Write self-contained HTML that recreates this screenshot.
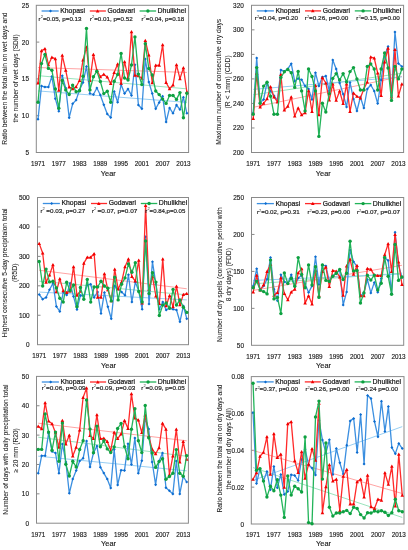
<!DOCTYPE html><html><head><meta charset="utf-8"><style>html,body{margin:0;padding:0;background:#fff;}svg{display:block;filter:blur(0.4px);}text{font-family:"Liberation Sans",sans-serif;fill:#111;stroke:#111;stroke-width:0.3px;}.t{fill:#222;stroke:#222;stroke-width:0.16px;}.yl{fill:#222;stroke:#222;stroke-width:0.06px;}.lg{fill:#151515;stroke:#151515;stroke-width:0.2px;}.st{fill:#1e1e1e;stroke:#1e1e1e;stroke-width:0.18px;}.sp{fill:#333;stroke:none;}</style></head><body>
<svg width="408" height="550" viewBox="0 0 408 550">
<rect width="408" height="550" fill="#fff"/>
<g><rect x="36.3" y="5.3" width="152.3" height="147.2" fill="none" stroke="#8a8a8a" stroke-width="1"/><text class="t" x="29" y="7.8" font-size="7.0" text-anchor="end" textLength="7.16" lengthAdjust="spacingAndGlyphs">25</text><line x1="36.3" y1="42.1" x2="39.3" y2="42.1" stroke="#8a8a8a" stroke-width="1"/><text class="t" x="29" y="44.6" font-size="7.0" text-anchor="end" textLength="7.16" lengthAdjust="spacingAndGlyphs">20</text><line x1="36.3" y1="78.9" x2="39.3" y2="78.9" stroke="#8a8a8a" stroke-width="1"/><text class="t" x="29" y="81.4" font-size="7.0" text-anchor="end" textLength="7.16" lengthAdjust="spacingAndGlyphs">15</text><line x1="36.3" y1="115.7" x2="39.3" y2="115.7" stroke="#8a8a8a" stroke-width="1"/><text class="t" x="29" y="118.2" font-size="7.0" text-anchor="end" textLength="7.16" lengthAdjust="spacingAndGlyphs">10</text><text class="t" x="29" y="155" font-size="7.0" text-anchor="end" textLength="3.58" lengthAdjust="spacingAndGlyphs">5</text><text class="t" x="38.03" y="165.9" font-size="7.0" text-anchor="middle" textLength="14.1" lengthAdjust="spacingAndGlyphs">1971</text><text class="t" x="58.8" y="165.9" font-size="7.0" text-anchor="middle" textLength="14.1" lengthAdjust="spacingAndGlyphs">1977</text><text class="t" x="79.57" y="165.9" font-size="7.0" text-anchor="middle" textLength="14.1" lengthAdjust="spacingAndGlyphs">1983</text><text class="t" x="100.34" y="165.9" font-size="7.0" text-anchor="middle" textLength="14.1" lengthAdjust="spacingAndGlyphs">1989</text><text class="t" x="121.1" y="165.9" font-size="7.0" text-anchor="middle" textLength="14.1" lengthAdjust="spacingAndGlyphs">1995</text><text class="t" x="141.87" y="165.9" font-size="7.0" text-anchor="middle" textLength="14.1" lengthAdjust="spacingAndGlyphs">2001</text><text class="t" x="162.64" y="165.9" font-size="7.0" text-anchor="middle" textLength="14.1" lengthAdjust="spacingAndGlyphs">2007</text><text class="t" x="183.41" y="165.9" font-size="7.0" text-anchor="middle" textLength="14.1" lengthAdjust="spacingAndGlyphs">2013</text><text class="t" x="108.3" y="175.6" font-size="7.4" text-anchor="middle">Year</text><text class="yl" transform="translate(7.3,78.55) rotate(-90)" font-size="6.6" text-anchor="middle" textLength="132.3" lengthAdjust="spacingAndGlyphs">Ratio between the total rain on wet days and</text><text class="yl" transform="translate(17.6,78.35) rotate(-90)" font-size="6.6" text-anchor="middle" textLength="88.3" lengthAdjust="spacingAndGlyphs">the number of wet days (SDII)</text><line x1="38.03" y1="67.56" x2="186.87" y2="72.44" stroke="#ff9a9a" stroke-width="0.9"/><line x1="38.03" y1="75.65" x2="186.87" y2="88.85" stroke="#8ee0b4" stroke-width="0.9"/><line x1="38.03" y1="90.93" x2="186.87" y2="102.37" stroke="#8cc8f0" stroke-width="0.9"/><polyline points="38.03,119.2 41.49,86.1 44.95,87 48.41,87 51.88,76.4 55.34,98.7 58.8,111.2 62.26,75.8 65.72,88 69.18,117.7 72.64,103.8 76.11,100.1 79.57,89.8 83.03,82.4 86.49,66.5 89.95,93.5 93.41,94.5 96.87,88 100.34,95 103.8,104.7 107.26,114 110.72,117.6 114.18,91.4 117.64,102.3 121.1,84.6 124.56,93.5 128.03,89 131.49,95.4 134.95,64.8 138.41,105 141.87,108.8 145.33,59.1 148.79,82 152.26,93.5 155.72,108.8 159.18,102.4 162.64,96.3 166.1,122 169.56,107.9 173.02,113.3 176.49,105 179.95,109.6 183.41,97.3 186.87,113.3" fill="none" stroke="#3b8fe0" stroke-width="1.3" stroke-linejoin="round"/><path d="M38.03 117.7L39.53 119.2L38.03 120.7L36.53 119.2Z" fill="#0c6cd0"/><path d="M41.49 84.6L42.99 86.1L41.49 87.6L39.99 86.1Z" fill="#0c6cd0"/><path d="M44.95 85.5L46.45 87L44.95 88.5L43.45 87Z" fill="#0c6cd0"/><path d="M48.41 85.5L49.91 87L48.41 88.5L46.91 87Z" fill="#0c6cd0"/><path d="M51.88 74.9L53.38 76.4L51.88 77.9L50.38 76.4Z" fill="#0c6cd0"/><path d="M55.34 97.2L56.84 98.7L55.34 100.2L53.84 98.7Z" fill="#0c6cd0"/><path d="M58.8 109.7L60.3 111.2L58.8 112.7L57.3 111.2Z" fill="#0c6cd0"/><path d="M62.26 74.3L63.76 75.8L62.26 77.3L60.76 75.8Z" fill="#0c6cd0"/><path d="M65.72 86.5L67.22 88L65.72 89.5L64.22 88Z" fill="#0c6cd0"/><path d="M69.18 116.2L70.68 117.7L69.18 119.2L67.68 117.7Z" fill="#0c6cd0"/><path d="M72.64 102.3L74.14 103.8L72.64 105.3L71.14 103.8Z" fill="#0c6cd0"/><path d="M76.11 98.6L77.61 100.1L76.11 101.6L74.61 100.1Z" fill="#0c6cd0"/><path d="M79.57 88.3L81.07 89.8L79.57 91.3L78.07 89.8Z" fill="#0c6cd0"/><path d="M83.03 80.9L84.53 82.4L83.03 83.9L81.53 82.4Z" fill="#0c6cd0"/><path d="M86.49 65L87.99 66.5L86.49 68L84.99 66.5Z" fill="#0c6cd0"/><path d="M89.95 92L91.45 93.5L89.95 95L88.45 93.5Z" fill="#0c6cd0"/><path d="M93.41 93L94.91 94.5L93.41 96L91.91 94.5Z" fill="#0c6cd0"/><path d="M96.87 86.5L98.37 88L96.87 89.5L95.37 88Z" fill="#0c6cd0"/><path d="M100.34 93.5L101.84 95L100.34 96.5L98.84 95Z" fill="#0c6cd0"/><path d="M103.8 103.2L105.3 104.7L103.8 106.2L102.3 104.7Z" fill="#0c6cd0"/><path d="M107.26 112.5L108.76 114L107.26 115.5L105.76 114Z" fill="#0c6cd0"/><path d="M110.72 116.1L112.22 117.6L110.72 119.1L109.22 117.6Z" fill="#0c6cd0"/><path d="M114.18 89.9L115.68 91.4L114.18 92.9L112.68 91.4Z" fill="#0c6cd0"/><path d="M117.64 100.8L119.14 102.3L117.64 103.8L116.14 102.3Z" fill="#0c6cd0"/><path d="M121.1 83.1L122.6 84.6L121.1 86.1L119.6 84.6Z" fill="#0c6cd0"/><path d="M124.56 92L126.06 93.5L124.56 95L123.06 93.5Z" fill="#0c6cd0"/><path d="M128.03 87.5L129.53 89L128.03 90.5L126.53 89Z" fill="#0c6cd0"/><path d="M131.49 93.9L132.99 95.4L131.49 96.9L129.99 95.4Z" fill="#0c6cd0"/><path d="M134.95 63.3L136.45 64.8L134.95 66.3L133.45 64.8Z" fill="#0c6cd0"/><path d="M138.41 103.5L139.91 105L138.41 106.5L136.91 105Z" fill="#0c6cd0"/><path d="M141.87 107.3L143.37 108.8L141.87 110.3L140.37 108.8Z" fill="#0c6cd0"/><path d="M145.33 57.6L146.83 59.1L145.33 60.6L143.83 59.1Z" fill="#0c6cd0"/><path d="M148.79 80.5L150.29 82L148.79 83.5L147.29 82Z" fill="#0c6cd0"/><path d="M152.26 92L153.76 93.5L152.26 95L150.76 93.5Z" fill="#0c6cd0"/><path d="M155.72 107.3L157.22 108.8L155.72 110.3L154.22 108.8Z" fill="#0c6cd0"/><path d="M159.18 100.9L160.68 102.4L159.18 103.9L157.68 102.4Z" fill="#0c6cd0"/><path d="M162.64 94.8L164.14 96.3L162.64 97.8L161.14 96.3Z" fill="#0c6cd0"/><path d="M166.1 120.5L167.6 122L166.1 123.5L164.6 122Z" fill="#0c6cd0"/><path d="M169.56 106.4L171.06 107.9L169.56 109.4L168.06 107.9Z" fill="#0c6cd0"/><path d="M173.02 111.8L174.52 113.3L173.02 114.8L171.52 113.3Z" fill="#0c6cd0"/><path d="M176.49 103.5L177.99 105L176.49 106.5L174.99 105Z" fill="#0c6cd0"/><path d="M179.95 108.1L181.45 109.6L179.95 111.1L178.45 109.6Z" fill="#0c6cd0"/><path d="M183.41 95.8L184.91 97.3L183.41 98.8L181.91 97.3Z" fill="#0c6cd0"/><path d="M186.87 111.8L188.37 113.3L186.87 114.8L185.37 113.3Z" fill="#0c6cd0"/><polyline points="38.03,83 41.49,50.7 44.95,48.9 48.41,64.7 51.88,57.3 55.34,58.7 58.8,90.4 62.26,55.4 65.72,70.3 69.18,87.1 72.64,88.9 76.11,86.7 79.57,80.5 83.03,60.1 86.49,47 89.95,80.5 93.41,54.5 96.87,70.3 100.34,76.8 103.8,74.4 107.26,77 110.72,83.6 114.18,72.6 117.64,64.1 121.1,83.3 124.56,61.7 128.03,77.6 131.49,31.9 134.95,75.4 138.41,75.9 141.87,78.2 145.33,40.6 148.79,55 152.26,82.7 155.72,65.4 159.18,65.4 162.64,44.8 166.1,82.6 169.56,88.8 173.02,85 176.49,64.9 179.95,78.7 183.41,67.9 186.87,92" fill="none" stroke="#ff2a2a" stroke-width="1.3" stroke-linejoin="round"/><path d="M38.03 81.2L39.83 84.44L36.23 84.44Z" fill="#f00000"/><path d="M41.49 48.9L43.29 52.14L39.69 52.14Z" fill="#f00000"/><path d="M44.95 47.1L46.75 50.34L43.15 50.34Z" fill="#f00000"/><path d="M48.41 62.9L50.21 66.14L46.61 66.14Z" fill="#f00000"/><path d="M51.88 55.5L53.68 58.74L50.08 58.74Z" fill="#f00000"/><path d="M55.34 56.9L57.14 60.14L53.54 60.14Z" fill="#f00000"/><path d="M58.8 88.6L60.6 91.84L57 91.84Z" fill="#f00000"/><path d="M62.26 53.6L64.06 56.84L60.46 56.84Z" fill="#f00000"/><path d="M65.72 68.5L67.52 71.74L63.92 71.74Z" fill="#f00000"/><path d="M69.18 85.3L70.98 88.54L67.38 88.54Z" fill="#f00000"/><path d="M72.64 87.1L74.44 90.34L70.84 90.34Z" fill="#f00000"/><path d="M76.11 84.9L77.91 88.14L74.31 88.14Z" fill="#f00000"/><path d="M79.57 78.7L81.37 81.94L77.77 81.94Z" fill="#f00000"/><path d="M83.03 58.3L84.83 61.54L81.23 61.54Z" fill="#f00000"/><path d="M86.49 45.2L88.29 48.44L84.69 48.44Z" fill="#f00000"/><path d="M89.95 78.7L91.75 81.94L88.15 81.94Z" fill="#f00000"/><path d="M93.41 52.7L95.21 55.94L91.61 55.94Z" fill="#f00000"/><path d="M96.87 68.5L98.67 71.74L95.07 71.74Z" fill="#f00000"/><path d="M100.34 75L102.14 78.24L98.54 78.24Z" fill="#f00000"/><path d="M103.8 72.6L105.6 75.84L102 75.84Z" fill="#f00000"/><path d="M107.26 75.2L109.06 78.44L105.46 78.44Z" fill="#f00000"/><path d="M110.72 81.8L112.52 85.04L108.92 85.04Z" fill="#f00000"/><path d="M114.18 70.8L115.98 74.04L112.38 74.04Z" fill="#f00000"/><path d="M117.64 62.3L119.44 65.54L115.84 65.54Z" fill="#f00000"/><path d="M121.1 81.5L122.9 84.74L119.3 84.74Z" fill="#f00000"/><path d="M124.56 59.9L126.36 63.14L122.76 63.14Z" fill="#f00000"/><path d="M128.03 75.8L129.83 79.04L126.23 79.04Z" fill="#f00000"/><path d="M131.49 30.1L133.29 33.34L129.69 33.34Z" fill="#f00000"/><path d="M134.95 73.6L136.75 76.84L133.15 76.84Z" fill="#f00000"/><path d="M138.41 74.1L140.21 77.34L136.61 77.34Z" fill="#f00000"/><path d="M141.87 76.4L143.67 79.64L140.07 79.64Z" fill="#f00000"/><path d="M145.33 38.8L147.13 42.04L143.53 42.04Z" fill="#f00000"/><path d="M148.79 53.2L150.59 56.44L146.99 56.44Z" fill="#f00000"/><path d="M152.26 80.9L154.06 84.14L150.46 84.14Z" fill="#f00000"/><path d="M155.72 63.6L157.52 66.84L153.92 66.84Z" fill="#f00000"/><path d="M159.18 63.6L160.98 66.84L157.38 66.84Z" fill="#f00000"/><path d="M162.64 43L164.44 46.24L160.84 46.24Z" fill="#f00000"/><path d="M166.1 80.8L167.9 84.04L164.3 84.04Z" fill="#f00000"/><path d="M169.56 87L171.36 90.24L167.76 90.24Z" fill="#f00000"/><path d="M173.02 83.2L174.82 86.44L171.22 86.44Z" fill="#f00000"/><path d="M176.49 63.1L178.29 66.34L174.69 66.34Z" fill="#f00000"/><path d="M179.95 76.9L181.75 80.14L178.15 80.14Z" fill="#f00000"/><path d="M183.41 66.1L185.21 69.34L181.61 69.34Z" fill="#f00000"/><path d="M186.87 90.2L188.67 93.44L185.07 93.44Z" fill="#f00000"/><polyline points="38.03,102.3 41.49,63.6 44.95,54.5 48.41,68.4 51.88,70.3 55.34,88.9 58.8,108.2 62.26,80.5 65.72,89.9 69.18,94.5 72.64,85.1 76.11,91.7 79.57,90.8 83.03,76.2 86.49,28.4 89.95,89.9 93.41,76.8 96.87,71.2 100.34,81.5 103.8,93.6 107.26,91.2 110.72,102.2 114.18,81.2 117.64,74.5 121.1,53.4 124.56,78 128.03,80 131.49,65 134.95,36.9 138.41,74.1 141.87,84.6 145.33,43.8 148.79,68.5 152.26,75 155.72,91 159.18,94.6 162.64,99.1 166.1,103.4 169.56,95.4 173.02,95.5 176.49,99.4 179.95,92.6 183.41,117.8 186.87,93.2" fill="none" stroke="#22b45a" stroke-width="1.3" stroke-linejoin="round"/><circle cx="38.03" cy="102.3" r="1.7" fill="#0ea040"/><circle cx="41.49" cy="63.6" r="1.7" fill="#0ea040"/><circle cx="44.95" cy="54.5" r="1.7" fill="#0ea040"/><circle cx="48.41" cy="68.4" r="1.7" fill="#0ea040"/><circle cx="51.88" cy="70.3" r="1.7" fill="#0ea040"/><circle cx="55.34" cy="88.9" r="1.7" fill="#0ea040"/><circle cx="58.8" cy="108.2" r="1.7" fill="#0ea040"/><circle cx="62.26" cy="80.5" r="1.7" fill="#0ea040"/><circle cx="65.72" cy="89.9" r="1.7" fill="#0ea040"/><circle cx="69.18" cy="94.5" r="1.7" fill="#0ea040"/><circle cx="72.64" cy="85.1" r="1.7" fill="#0ea040"/><circle cx="76.11" cy="91.7" r="1.7" fill="#0ea040"/><circle cx="79.57" cy="90.8" r="1.7" fill="#0ea040"/><circle cx="83.03" cy="76.2" r="1.7" fill="#0ea040"/><circle cx="86.49" cy="28.4" r="1.7" fill="#0ea040"/><circle cx="89.95" cy="89.9" r="1.7" fill="#0ea040"/><circle cx="93.41" cy="76.8" r="1.7" fill="#0ea040"/><circle cx="96.87" cy="71.2" r="1.7" fill="#0ea040"/><circle cx="100.34" cy="81.5" r="1.7" fill="#0ea040"/><circle cx="103.8" cy="93.6" r="1.7" fill="#0ea040"/><circle cx="107.26" cy="91.2" r="1.7" fill="#0ea040"/><circle cx="110.72" cy="102.2" r="1.7" fill="#0ea040"/><circle cx="114.18" cy="81.2" r="1.7" fill="#0ea040"/><circle cx="117.64" cy="74.5" r="1.7" fill="#0ea040"/><circle cx="121.1" cy="53.4" r="1.7" fill="#0ea040"/><circle cx="124.56" cy="78" r="1.7" fill="#0ea040"/><circle cx="128.03" cy="80" r="1.7" fill="#0ea040"/><circle cx="131.49" cy="65" r="1.7" fill="#0ea040"/><circle cx="134.95" cy="36.9" r="1.7" fill="#0ea040"/><circle cx="138.41" cy="74.1" r="1.7" fill="#0ea040"/><circle cx="141.87" cy="84.6" r="1.7" fill="#0ea040"/><circle cx="145.33" cy="43.8" r="1.7" fill="#0ea040"/><circle cx="148.79" cy="68.5" r="1.7" fill="#0ea040"/><circle cx="152.26" cy="75" r="1.7" fill="#0ea040"/><circle cx="155.72" cy="91" r="1.7" fill="#0ea040"/><circle cx="159.18" cy="94.6" r="1.7" fill="#0ea040"/><circle cx="162.64" cy="99.1" r="1.7" fill="#0ea040"/><circle cx="166.1" cy="103.4" r="1.7" fill="#0ea040"/><circle cx="169.56" cy="95.4" r="1.7" fill="#0ea040"/><circle cx="173.02" cy="95.5" r="1.7" fill="#0ea040"/><circle cx="176.49" cy="99.4" r="1.7" fill="#0ea040"/><circle cx="179.95" cy="92.6" r="1.7" fill="#0ea040"/><circle cx="183.41" cy="117.8" r="1.7" fill="#0ea040"/><circle cx="186.87" cy="93.2" r="1.7" fill="#0ea040"/><line x1="41.6" y1="11" x2="58.7" y2="11" stroke="#3b8fe0" stroke-width="1.3"/><path d="M50.5 9.5L52 11L50.5 12.5L49 11Z" fill="#0c6cd0"/><text class="lg" x="60.2" y="12.95" font-size="7.0" textLength="24.9" lengthAdjust="spacingAndGlyphs">Khopasi</text><line x1="89.8" y1="11" x2="105.9" y2="11" stroke="#ff2a2a" stroke-width="1.3"/><path d="M97.6 9.2L99.4 12.44L95.8 12.44Z" fill="#f00000"/><text class="lg" x="107.5" y="12.95" font-size="7.0" textLength="27.4" lengthAdjust="spacingAndGlyphs">Godavari</text><line x1="139.6" y1="11" x2="156.1" y2="11" stroke="#22b45a" stroke-width="1.3"/><circle cx="147.9" cy="11" r="1.7" fill="#0ea040"/><text class="lg" x="157.5" y="12.95" font-size="7.0" textLength="28.6" lengthAdjust="spacingAndGlyphs">Dhulikhel</text><text class="st" x="38.6" y="20.6" font-size="5.9">r</text><text class="sp" x="40.7" y="18.2" font-size="4.0">2</text><text class="st" x="42.9" y="20.6" font-size="5.9" textLength="38.7" lengthAdjust="spacingAndGlyphs">=0.05, p=0.13</text><text class="st" x="89.9" y="20.6" font-size="5.9">r</text><text class="sp" x="92" y="18.2" font-size="4.0">2</text><text class="st" x="94.2" y="20.6" font-size="5.9" textLength="38.4" lengthAdjust="spacingAndGlyphs">=0.01, p=0.52</text><text class="st" x="141.5" y="20.6" font-size="5.9">r</text><text class="sp" x="143.6" y="18.2" font-size="4.0">2</text><text class="st" x="145.8" y="20.6" font-size="5.9" textLength="38.5" lengthAdjust="spacingAndGlyphs">=0.04, p=0.18</text></g>
<g><rect x="251.5" y="5.3" width="152.1" height="147.2" fill="none" stroke="#8a8a8a" stroke-width="1"/><text class="t" x="243.8" y="7.8" font-size="7.0" text-anchor="end" textLength="10.74" lengthAdjust="spacingAndGlyphs">320</text><line x1="251.5" y1="29.83" x2="254.5" y2="29.83" stroke="#8a8a8a" stroke-width="1"/><text class="t" x="243.8" y="32.33" font-size="7.0" text-anchor="end" textLength="10.74" lengthAdjust="spacingAndGlyphs">300</text><line x1="251.5" y1="54.37" x2="254.5" y2="54.37" stroke="#8a8a8a" stroke-width="1"/><text class="t" x="243.8" y="56.87" font-size="7.0" text-anchor="end" textLength="10.74" lengthAdjust="spacingAndGlyphs">280</text><line x1="251.5" y1="78.9" x2="254.5" y2="78.9" stroke="#8a8a8a" stroke-width="1"/><text class="t" x="243.8" y="81.4" font-size="7.0" text-anchor="end" textLength="10.74" lengthAdjust="spacingAndGlyphs">260</text><line x1="251.5" y1="103.43" x2="254.5" y2="103.43" stroke="#8a8a8a" stroke-width="1"/><text class="t" x="243.8" y="105.93" font-size="7.0" text-anchor="end" textLength="10.74" lengthAdjust="spacingAndGlyphs">240</text><line x1="251.5" y1="127.97" x2="254.5" y2="127.97" stroke="#8a8a8a" stroke-width="1"/><text class="t" x="243.8" y="130.47" font-size="7.0" text-anchor="end" textLength="10.74" lengthAdjust="spacingAndGlyphs">220</text><text class="t" x="243.8" y="155" font-size="7.0" text-anchor="end" textLength="10.74" lengthAdjust="spacingAndGlyphs">200</text><text class="t" x="253.23" y="165.9" font-size="7.0" text-anchor="middle" textLength="14.1" lengthAdjust="spacingAndGlyphs">1971</text><text class="t" x="273.97" y="165.9" font-size="7.0" text-anchor="middle" textLength="14.1" lengthAdjust="spacingAndGlyphs">1977</text><text class="t" x="294.71" y="165.9" font-size="7.0" text-anchor="middle" textLength="14.1" lengthAdjust="spacingAndGlyphs">1983</text><text class="t" x="315.45" y="165.9" font-size="7.0" text-anchor="middle" textLength="14.1" lengthAdjust="spacingAndGlyphs">1989</text><text class="t" x="336.19" y="165.9" font-size="7.0" text-anchor="middle" textLength="14.1" lengthAdjust="spacingAndGlyphs">1995</text><text class="t" x="356.93" y="165.9" font-size="7.0" text-anchor="middle" textLength="14.1" lengthAdjust="spacingAndGlyphs">2001</text><text class="t" x="377.67" y="165.9" font-size="7.0" text-anchor="middle" textLength="14.1" lengthAdjust="spacingAndGlyphs">2007</text><text class="t" x="398.41" y="165.9" font-size="7.0" text-anchor="middle" textLength="14.1" lengthAdjust="spacingAndGlyphs">2013</text><text class="t" x="323.3" y="175.6" font-size="7.4" text-anchor="middle">Year</text><text class="yl" transform="translate(221,81.8) rotate(-90)" font-size="6.6" text-anchor="middle" textLength="125.8" lengthAdjust="spacingAndGlyphs">Maximum number of consecutive dry days</text><text class="yl" transform="translate(230.3,81.85) rotate(-90)" font-size="6.6" text-anchor="middle" textLength="53.1" lengthAdjust="spacingAndGlyphs">(R < 1mm) (CDD)</text><line x1="253.23" y1="107.34" x2="401.87" y2="76.36" stroke="#ff9a9a" stroke-width="0.9"/><line x1="253.23" y1="94.75" x2="401.87" y2="73.25" stroke="#8ee0b4" stroke-width="0.9"/><line x1="253.23" y1="89.36" x2="401.87" y2="76.94" stroke="#8cc8f0" stroke-width="0.9"/><polyline points="253.23,112.9 256.69,58 260.14,102.4 263.6,99.5 267.06,82.3 270.51,90.9 273.97,95.7 277.43,100.4 280.88,69.9 284.34,71.4 287.8,68.9 291.25,63.7 294.71,81.3 298.17,78.5 301.62,79.8 305.08,86.1 308.54,89 311.99,99.5 315.45,72.7 318.91,86.1 322.36,77.1 325.82,76 329.28,91 332.74,60 336.19,69 339.65,83 343.11,94 346.56,107 350.02,82.4 353.48,99 356.93,111 360.39,97 363.85,108 367.3,89 370.76,85 374.22,91 377.67,103.6 381.13,80 384.59,56 388.04,46.4 391.5,96 394.96,32 398.41,63.6 401.87,66.4" fill="none" stroke="#3b8fe0" stroke-width="1.3" stroke-linejoin="round"/><path d="M253.23 111.4L254.73 112.9L253.23 114.4L251.73 112.9Z" fill="#0c6cd0"/><path d="M256.69 56.5L258.19 58L256.69 59.5L255.19 58Z" fill="#0c6cd0"/><path d="M260.14 100.9L261.64 102.4L260.14 103.9L258.64 102.4Z" fill="#0c6cd0"/><path d="M263.6 98L265.1 99.5L263.6 101L262.1 99.5Z" fill="#0c6cd0"/><path d="M267.06 80.8L268.56 82.3L267.06 83.8L265.56 82.3Z" fill="#0c6cd0"/><path d="M270.51 89.4L272.01 90.9L270.51 92.4L269.01 90.9Z" fill="#0c6cd0"/><path d="M273.97 94.2L275.47 95.7L273.97 97.2L272.47 95.7Z" fill="#0c6cd0"/><path d="M277.43 98.9L278.93 100.4L277.43 101.9L275.93 100.4Z" fill="#0c6cd0"/><path d="M280.88 68.4L282.38 69.9L280.88 71.4L279.38 69.9Z" fill="#0c6cd0"/><path d="M284.34 69.9L285.84 71.4L284.34 72.9L282.84 71.4Z" fill="#0c6cd0"/><path d="M287.8 67.4L289.3 68.9L287.8 70.4L286.3 68.9Z" fill="#0c6cd0"/><path d="M291.25 62.2L292.75 63.7L291.25 65.2L289.75 63.7Z" fill="#0c6cd0"/><path d="M294.71 79.8L296.21 81.3L294.71 82.8L293.21 81.3Z" fill="#0c6cd0"/><path d="M298.17 77L299.67 78.5L298.17 80L296.67 78.5Z" fill="#0c6cd0"/><path d="M301.62 78.3L303.12 79.8L301.62 81.3L300.12 79.8Z" fill="#0c6cd0"/><path d="M305.08 84.6L306.58 86.1L305.08 87.6L303.58 86.1Z" fill="#0c6cd0"/><path d="M308.54 87.5L310.04 89L308.54 90.5L307.04 89Z" fill="#0c6cd0"/><path d="M311.99 98L313.49 99.5L311.99 101L310.49 99.5Z" fill="#0c6cd0"/><path d="M315.45 71.2L316.95 72.7L315.45 74.2L313.95 72.7Z" fill="#0c6cd0"/><path d="M318.91 84.6L320.41 86.1L318.91 87.6L317.41 86.1Z" fill="#0c6cd0"/><path d="M322.36 75.6L323.86 77.1L322.36 78.6L320.86 77.1Z" fill="#0c6cd0"/><path d="M325.82 74.5L327.32 76L325.82 77.5L324.32 76Z" fill="#0c6cd0"/><path d="M329.28 89.5L330.78 91L329.28 92.5L327.78 91Z" fill="#0c6cd0"/><path d="M332.74 58.5L334.24 60L332.74 61.5L331.24 60Z" fill="#0c6cd0"/><path d="M336.19 67.5L337.69 69L336.19 70.5L334.69 69Z" fill="#0c6cd0"/><path d="M339.65 81.5L341.15 83L339.65 84.5L338.15 83Z" fill="#0c6cd0"/><path d="M343.11 92.5L344.61 94L343.11 95.5L341.61 94Z" fill="#0c6cd0"/><path d="M346.56 105.5L348.06 107L346.56 108.5L345.06 107Z" fill="#0c6cd0"/><path d="M350.02 80.9L351.52 82.4L350.02 83.9L348.52 82.4Z" fill="#0c6cd0"/><path d="M353.48 97.5L354.98 99L353.48 100.5L351.98 99Z" fill="#0c6cd0"/><path d="M356.93 109.5L358.43 111L356.93 112.5L355.43 111Z" fill="#0c6cd0"/><path d="M360.39 95.5L361.89 97L360.39 98.5L358.89 97Z" fill="#0c6cd0"/><path d="M363.85 106.5L365.35 108L363.85 109.5L362.35 108Z" fill="#0c6cd0"/><path d="M367.3 87.5L368.8 89L367.3 90.5L365.8 89Z" fill="#0c6cd0"/><path d="M370.76 83.5L372.26 85L370.76 86.5L369.26 85Z" fill="#0c6cd0"/><path d="M374.22 89.5L375.72 91L374.22 92.5L372.72 91Z" fill="#0c6cd0"/><path d="M377.67 102.1L379.17 103.6L377.67 105.1L376.17 103.6Z" fill="#0c6cd0"/><path d="M381.13 78.5L382.63 80L381.13 81.5L379.63 80Z" fill="#0c6cd0"/><path d="M384.59 54.5L386.09 56L384.59 57.5L383.09 56Z" fill="#0c6cd0"/><path d="M388.04 44.9L389.54 46.4L388.04 47.9L386.54 46.4Z" fill="#0c6cd0"/><path d="M391.5 94.5L393 96L391.5 97.5L390 96Z" fill="#0c6cd0"/><path d="M394.96 30.5L396.46 32L394.96 33.5L393.46 32Z" fill="#0c6cd0"/><path d="M398.41 62.1L399.91 63.6L398.41 65.1L396.91 63.6Z" fill="#0c6cd0"/><path d="M401.87 64.9L403.37 66.4L401.87 67.9L400.37 66.4Z" fill="#0c6cd0"/><polyline points="253.23,118.6 256.69,73.3 260.14,107.1 263.6,103.3 267.06,98.9 270.51,86.7 273.97,97 277.43,102 280.88,74.6 284.34,110 287.8,106.2 291.25,97 294.71,116.1 298.17,108.1 301.62,114.8 305.08,112.9 308.54,90.9 311.99,111.5 315.45,85.5 318.91,114.8 322.36,77.5 325.82,83 329.28,100 332.74,84 336.19,100.4 339.65,91 343.11,103.6 346.56,84 350.02,111.6 353.48,93 356.93,96.4 360.39,98 363.85,89 367.3,82 370.76,57 374.22,58 377.67,73 381.13,95.6 384.59,62 388.04,48.4 391.5,97 394.96,49.6 398.41,96 401.87,84" fill="none" stroke="#ff2a2a" stroke-width="1.3" stroke-linejoin="round"/><path d="M253.23 116.8L255.03 120.04L251.43 120.04Z" fill="#f00000"/><path d="M256.69 71.5L258.49 74.74L254.89 74.74Z" fill="#f00000"/><path d="M260.14 105.3L261.94 108.54L258.34 108.54Z" fill="#f00000"/><path d="M263.6 101.5L265.4 104.74L261.8 104.74Z" fill="#f00000"/><path d="M267.06 97.1L268.86 100.34L265.26 100.34Z" fill="#f00000"/><path d="M270.51 84.9L272.31 88.14L268.71 88.14Z" fill="#f00000"/><path d="M273.97 95.2L275.77 98.44L272.17 98.44Z" fill="#f00000"/><path d="M277.43 100.2L279.23 103.44L275.63 103.44Z" fill="#f00000"/><path d="M280.88 72.8L282.68 76.04L279.08 76.04Z" fill="#f00000"/><path d="M284.34 108.2L286.14 111.44L282.54 111.44Z" fill="#f00000"/><path d="M287.8 104.4L289.6 107.64L286 107.64Z" fill="#f00000"/><path d="M291.25 95.2L293.05 98.44L289.45 98.44Z" fill="#f00000"/><path d="M294.71 114.3L296.51 117.54L292.91 117.54Z" fill="#f00000"/><path d="M298.17 106.3L299.97 109.54L296.37 109.54Z" fill="#f00000"/><path d="M301.62 113L303.42 116.24L299.82 116.24Z" fill="#f00000"/><path d="M305.08 111.1L306.88 114.34L303.28 114.34Z" fill="#f00000"/><path d="M308.54 89.1L310.34 92.34L306.74 92.34Z" fill="#f00000"/><path d="M311.99 109.7L313.79 112.94L310.19 112.94Z" fill="#f00000"/><path d="M315.45 83.7L317.25 86.94L313.65 86.94Z" fill="#f00000"/><path d="M318.91 113L320.71 116.24L317.11 116.24Z" fill="#f00000"/><path d="M322.36 75.7L324.16 78.94L320.56 78.94Z" fill="#f00000"/><path d="M325.82 81.2L327.62 84.44L324.02 84.44Z" fill="#f00000"/><path d="M329.28 98.2L331.08 101.44L327.48 101.44Z" fill="#f00000"/><path d="M332.74 82.2L334.54 85.44L330.94 85.44Z" fill="#f00000"/><path d="M336.19 98.6L337.99 101.84L334.39 101.84Z" fill="#f00000"/><path d="M339.65 89.2L341.45 92.44L337.85 92.44Z" fill="#f00000"/><path d="M343.11 101.8L344.91 105.04L341.31 105.04Z" fill="#f00000"/><path d="M346.56 82.2L348.36 85.44L344.76 85.44Z" fill="#f00000"/><path d="M350.02 109.8L351.82 113.04L348.22 113.04Z" fill="#f00000"/><path d="M353.48 91.2L355.28 94.44L351.68 94.44Z" fill="#f00000"/><path d="M356.93 94.6L358.73 97.84L355.13 97.84Z" fill="#f00000"/><path d="M360.39 96.2L362.19 99.44L358.59 99.44Z" fill="#f00000"/><path d="M363.85 87.2L365.65 90.44L362.05 90.44Z" fill="#f00000"/><path d="M367.3 80.2L369.1 83.44L365.5 83.44Z" fill="#f00000"/><path d="M370.76 55.2L372.56 58.44L368.96 58.44Z" fill="#f00000"/><path d="M374.22 56.2L376.02 59.44L372.42 59.44Z" fill="#f00000"/><path d="M377.67 71.2L379.47 74.44L375.87 74.44Z" fill="#f00000"/><path d="M381.13 93.8L382.93 97.04L379.33 97.04Z" fill="#f00000"/><path d="M384.59 60.2L386.39 63.44L382.79 63.44Z" fill="#f00000"/><path d="M388.04 46.6L389.84 49.84L386.24 49.84Z" fill="#f00000"/><path d="M391.5 95.2L393.3 98.44L389.7 98.44Z" fill="#f00000"/><path d="M394.96 47.8L396.76 51.04L393.16 51.04Z" fill="#f00000"/><path d="M398.41 94.2L400.21 97.44L396.61 97.44Z" fill="#f00000"/><path d="M401.87 82.2L403.67 85.44L400.07 85.44Z" fill="#f00000"/><polyline points="253.23,114.2 256.69,67.6 260.14,103.3 263.6,86.1 267.06,82.3 270.51,96.2 273.97,114.2 277.43,114.2 280.88,77.5 284.34,71.8 287.8,69.5 291.25,72.7 294.71,87.4 298.17,71.4 301.62,90.9 305.08,111 308.54,68.9 311.99,76.5 315.45,90.9 318.91,136.4 322.36,103.3 325.82,112 329.28,93.6 332.74,78.4 336.19,73.6 339.65,80 343.11,73.6 346.56,82 350.02,71.6 353.48,67.6 356.93,79 360.39,90 363.85,90 367.3,66.4 370.76,64 374.22,69 377.67,90 381.13,69 384.59,53 388.04,68 391.5,100.4 394.96,66.4 398.41,78.9 401.87,69" fill="none" stroke="#22b45a" stroke-width="1.3" stroke-linejoin="round"/><circle cx="253.23" cy="114.2" r="1.7" fill="#0ea040"/><circle cx="256.69" cy="67.6" r="1.7" fill="#0ea040"/><circle cx="260.14" cy="103.3" r="1.7" fill="#0ea040"/><circle cx="263.6" cy="86.1" r="1.7" fill="#0ea040"/><circle cx="267.06" cy="82.3" r="1.7" fill="#0ea040"/><circle cx="270.51" cy="96.2" r="1.7" fill="#0ea040"/><circle cx="273.97" cy="114.2" r="1.7" fill="#0ea040"/><circle cx="277.43" cy="114.2" r="1.7" fill="#0ea040"/><circle cx="280.88" cy="77.5" r="1.7" fill="#0ea040"/><circle cx="284.34" cy="71.8" r="1.7" fill="#0ea040"/><circle cx="287.8" cy="69.5" r="1.7" fill="#0ea040"/><circle cx="291.25" cy="72.7" r="1.7" fill="#0ea040"/><circle cx="294.71" cy="87.4" r="1.7" fill="#0ea040"/><circle cx="298.17" cy="71.4" r="1.7" fill="#0ea040"/><circle cx="301.62" cy="90.9" r="1.7" fill="#0ea040"/><circle cx="305.08" cy="111" r="1.7" fill="#0ea040"/><circle cx="308.54" cy="68.9" r="1.7" fill="#0ea040"/><circle cx="311.99" cy="76.5" r="1.7" fill="#0ea040"/><circle cx="315.45" cy="90.9" r="1.7" fill="#0ea040"/><circle cx="318.91" cy="136.4" r="1.7" fill="#0ea040"/><circle cx="322.36" cy="103.3" r="1.7" fill="#0ea040"/><circle cx="325.82" cy="112" r="1.7" fill="#0ea040"/><circle cx="329.28" cy="93.6" r="1.7" fill="#0ea040"/><circle cx="332.74" cy="78.4" r="1.7" fill="#0ea040"/><circle cx="336.19" cy="73.6" r="1.7" fill="#0ea040"/><circle cx="339.65" cy="80" r="1.7" fill="#0ea040"/><circle cx="343.11" cy="73.6" r="1.7" fill="#0ea040"/><circle cx="346.56" cy="82" r="1.7" fill="#0ea040"/><circle cx="350.02" cy="71.6" r="1.7" fill="#0ea040"/><circle cx="353.48" cy="67.6" r="1.7" fill="#0ea040"/><circle cx="356.93" cy="79" r="1.7" fill="#0ea040"/><circle cx="360.39" cy="90" r="1.7" fill="#0ea040"/><circle cx="363.85" cy="90" r="1.7" fill="#0ea040"/><circle cx="367.3" cy="66.4" r="1.7" fill="#0ea040"/><circle cx="370.76" cy="64" r="1.7" fill="#0ea040"/><circle cx="374.22" cy="69" r="1.7" fill="#0ea040"/><circle cx="377.67" cy="90" r="1.7" fill="#0ea040"/><circle cx="381.13" cy="69" r="1.7" fill="#0ea040"/><circle cx="384.59" cy="53" r="1.7" fill="#0ea040"/><circle cx="388.04" cy="68" r="1.7" fill="#0ea040"/><circle cx="391.5" cy="100.4" r="1.7" fill="#0ea040"/><circle cx="394.96" cy="66.4" r="1.7" fill="#0ea040"/><circle cx="398.41" cy="78.9" r="1.7" fill="#0ea040"/><circle cx="401.87" cy="69" r="1.7" fill="#0ea040"/><line x1="256.8" y1="10.9" x2="273.9" y2="10.9" stroke="#3b8fe0" stroke-width="1.3"/><path d="M265.7 9.4L267.2 10.9L265.7 12.4L264.2 10.9Z" fill="#0c6cd0"/><text class="lg" x="275.4" y="12.85" font-size="7.0" textLength="24.9" lengthAdjust="spacingAndGlyphs">Khopasi</text><line x1="305" y1="10.9" x2="321.1" y2="10.9" stroke="#ff2a2a" stroke-width="1.3"/><path d="M312.8 9.1L314.6 12.34L311 12.34Z" fill="#f00000"/><text class="lg" x="322.7" y="12.85" font-size="7.0" textLength="27.4" lengthAdjust="spacingAndGlyphs">Godavari</text><line x1="354.8" y1="10.9" x2="371.3" y2="10.9" stroke="#22b45a" stroke-width="1.3"/><circle cx="363.1" cy="10.9" r="1.7" fill="#0ea040"/><text class="lg" x="372.7" y="12.85" font-size="7.0" textLength="28.6" lengthAdjust="spacingAndGlyphs">Dhulikhel</text><text class="st" x="254.8" y="20.4" font-size="5.9">r</text><text class="sp" x="256.9" y="18" font-size="4.0">2</text><text class="st" x="259.1" y="20.4" font-size="5.9" textLength="39" lengthAdjust="spacingAndGlyphs">=0.04, p=0.20</text><text class="st" x="304.8" y="20.4" font-size="5.9">r</text><text class="sp" x="306.9" y="18" font-size="4.0">2</text><text class="st" x="309.1" y="20.4" font-size="5.9" textLength="39.3" lengthAdjust="spacingAndGlyphs">=0.26, p=0.00</text><text class="st" x="356.3" y="20.4" font-size="5.9">r</text><text class="sp" x="358.4" y="18" font-size="4.0">2</text><text class="st" x="360.6" y="20.4" font-size="5.9" textLength="39.3" lengthAdjust="spacingAndGlyphs">=0.15, p=0.00</text></g>
<g><rect x="37.5" y="197.5" width="151" height="147.2" fill="none" stroke="#8a8a8a" stroke-width="1"/><text class="t" x="29.7" y="200" font-size="7.0" text-anchor="end" textLength="10.74" lengthAdjust="spacingAndGlyphs">500</text><line x1="37.5" y1="226.94" x2="40.5" y2="226.94" stroke="#8a8a8a" stroke-width="1"/><text class="t" x="29.7" y="229.44" font-size="7.0" text-anchor="end" textLength="10.74" lengthAdjust="spacingAndGlyphs">400</text><line x1="37.5" y1="256.38" x2="40.5" y2="256.38" stroke="#8a8a8a" stroke-width="1"/><text class="t" x="29.7" y="258.88" font-size="7.0" text-anchor="end" textLength="10.74" lengthAdjust="spacingAndGlyphs">300</text><line x1="37.5" y1="285.82" x2="40.5" y2="285.82" stroke="#8a8a8a" stroke-width="1"/><text class="t" x="29.7" y="288.32" font-size="7.0" text-anchor="end" textLength="10.74" lengthAdjust="spacingAndGlyphs">200</text><line x1="37.5" y1="315.26" x2="40.5" y2="315.26" stroke="#8a8a8a" stroke-width="1"/><text class="t" x="29.7" y="317.76" font-size="7.0" text-anchor="end" textLength="10.74" lengthAdjust="spacingAndGlyphs">100</text><text class="t" x="29.7" y="347.2" font-size="7.0" text-anchor="end" textLength="3.58" lengthAdjust="spacingAndGlyphs">0</text><text class="t" x="39.22" y="358.1" font-size="7.0" text-anchor="middle" textLength="14.1" lengthAdjust="spacingAndGlyphs">1971</text><text class="t" x="59.81" y="358.1" font-size="7.0" text-anchor="middle" textLength="14.1" lengthAdjust="spacingAndGlyphs">1977</text><text class="t" x="80.4" y="358.1" font-size="7.0" text-anchor="middle" textLength="14.1" lengthAdjust="spacingAndGlyphs">1983</text><text class="t" x="100.99" y="358.1" font-size="7.0" text-anchor="middle" textLength="14.1" lengthAdjust="spacingAndGlyphs">1989</text><text class="t" x="121.58" y="358.1" font-size="7.0" text-anchor="middle" textLength="14.1" lengthAdjust="spacingAndGlyphs">1995</text><text class="t" x="142.17" y="358.1" font-size="7.0" text-anchor="middle" textLength="14.1" lengthAdjust="spacingAndGlyphs">2001</text><text class="t" x="162.76" y="358.1" font-size="7.0" text-anchor="middle" textLength="14.1" lengthAdjust="spacingAndGlyphs">2007</text><text class="t" x="183.35" y="358.1" font-size="7.0" text-anchor="middle" textLength="14.1" lengthAdjust="spacingAndGlyphs">2013</text><text class="t" x="108.5" y="367.6" font-size="7.4" text-anchor="middle">Year</text><text class="yl" transform="translate(7.4,273) rotate(-90)" font-size="6.6" text-anchor="middle" textLength="129.2" lengthAdjust="spacingAndGlyphs">Highest consecutive 5-day precipitaion total</text><text class="yl" transform="translate(17.4,272.75) rotate(-90)" font-size="6.6" text-anchor="middle" textLength="18.5" lengthAdjust="spacingAndGlyphs">(R5D)</text><line x1="39.22" y1="270.22" x2="186.78" y2="288.78" stroke="#ff9a9a" stroke-width="0.9"/><line x1="39.22" y1="281.16" x2="186.78" y2="294.84" stroke="#8ee0b4" stroke-width="0.9"/><line x1="39.22" y1="292.09" x2="186.78" y2="299.91" stroke="#8cc8f0" stroke-width="0.9"/><polyline points="39.22,294.5 42.65,299.2 46.08,297.4 49.51,289.8 52.94,283.2 56.38,306.4 59.81,311.5 63.24,291.7 66.67,295 70.1,283.2 73.53,296.4 76.97,309.6 80.4,295.5 83.83,296 87.26,285 90.69,284.2 94.12,297.4 97.56,292 100.99,313.4 104.42,292.6 107.85,306.8 111.28,318.7 114.72,285.7 118.15,289 121.58,292 125.01,295.3 128.44,274.8 131.88,302 135.31,282.1 138.74,291.1 142.17,309.3 145.6,236.7 149.03,304 152.47,261.8 155.9,284.2 159.33,309.3 162.76,302 166.19,309.9 169.62,308.2 173.06,309.3 176.49,309.9 179.92,321.8 183.35,306.1 186.78,318.7" fill="none" stroke="#3b8fe0" stroke-width="1.3" stroke-linejoin="round"/><path d="M39.22 293L40.72 294.5L39.22 296L37.72 294.5Z" fill="#0c6cd0"/><path d="M42.65 297.7L44.15 299.2L42.65 300.7L41.15 299.2Z" fill="#0c6cd0"/><path d="M46.08 295.9L47.58 297.4L46.08 298.9L44.58 297.4Z" fill="#0c6cd0"/><path d="M49.51 288.3L51.01 289.8L49.51 291.3L48.01 289.8Z" fill="#0c6cd0"/><path d="M52.94 281.7L54.44 283.2L52.94 284.7L51.44 283.2Z" fill="#0c6cd0"/><path d="M56.38 304.9L57.88 306.4L56.38 307.9L54.88 306.4Z" fill="#0c6cd0"/><path d="M59.81 310L61.31 311.5L59.81 313L58.31 311.5Z" fill="#0c6cd0"/><path d="M63.24 290.2L64.74 291.7L63.24 293.2L61.74 291.7Z" fill="#0c6cd0"/><path d="M66.67 293.5L68.17 295L66.67 296.5L65.17 295Z" fill="#0c6cd0"/><path d="M70.1 281.7L71.6 283.2L70.1 284.7L68.6 283.2Z" fill="#0c6cd0"/><path d="M73.53 294.9L75.03 296.4L73.53 297.9L72.03 296.4Z" fill="#0c6cd0"/><path d="M76.97 308.1L78.47 309.6L76.97 311.1L75.47 309.6Z" fill="#0c6cd0"/><path d="M80.4 294L81.9 295.5L80.4 297L78.9 295.5Z" fill="#0c6cd0"/><path d="M83.83 294.5L85.33 296L83.83 297.5L82.33 296Z" fill="#0c6cd0"/><path d="M87.26 283.5L88.76 285L87.26 286.5L85.76 285Z" fill="#0c6cd0"/><path d="M90.69 282.7L92.19 284.2L90.69 285.7L89.19 284.2Z" fill="#0c6cd0"/><path d="M94.12 295.9L95.62 297.4L94.12 298.9L92.62 297.4Z" fill="#0c6cd0"/><path d="M97.56 290.5L99.06 292L97.56 293.5L96.06 292Z" fill="#0c6cd0"/><path d="M100.99 311.9L102.49 313.4L100.99 314.9L99.49 313.4Z" fill="#0c6cd0"/><path d="M104.42 291.1L105.92 292.6L104.42 294.1L102.92 292.6Z" fill="#0c6cd0"/><path d="M107.85 305.3L109.35 306.8L107.85 308.3L106.35 306.8Z" fill="#0c6cd0"/><path d="M111.28 317.2L112.78 318.7L111.28 320.2L109.78 318.7Z" fill="#0c6cd0"/><path d="M114.72 284.2L116.22 285.7L114.72 287.2L113.22 285.7Z" fill="#0c6cd0"/><path d="M118.15 287.5L119.65 289L118.15 290.5L116.65 289Z" fill="#0c6cd0"/><path d="M121.58 290.5L123.08 292L121.58 293.5L120.08 292Z" fill="#0c6cd0"/><path d="M125.01 293.8L126.51 295.3L125.01 296.8L123.51 295.3Z" fill="#0c6cd0"/><path d="M128.44 273.3L129.94 274.8L128.44 276.3L126.94 274.8Z" fill="#0c6cd0"/><path d="M131.88 300.5L133.38 302L131.88 303.5L130.38 302Z" fill="#0c6cd0"/><path d="M135.31 280.6L136.81 282.1L135.31 283.6L133.81 282.1Z" fill="#0c6cd0"/><path d="M138.74 289.6L140.24 291.1L138.74 292.6L137.24 291.1Z" fill="#0c6cd0"/><path d="M142.17 307.8L143.67 309.3L142.17 310.8L140.67 309.3Z" fill="#0c6cd0"/><path d="M145.6 235.2L147.1 236.7L145.6 238.2L144.1 236.7Z" fill="#0c6cd0"/><path d="M149.03 302.5L150.53 304L149.03 305.5L147.53 304Z" fill="#0c6cd0"/><path d="M152.47 260.3L153.97 261.8L152.47 263.3L150.97 261.8Z" fill="#0c6cd0"/><path d="M155.9 282.7L157.4 284.2L155.9 285.7L154.4 284.2Z" fill="#0c6cd0"/><path d="M159.33 307.8L160.83 309.3L159.33 310.8L157.83 309.3Z" fill="#0c6cd0"/><path d="M162.76 300.5L164.26 302L162.76 303.5L161.26 302Z" fill="#0c6cd0"/><path d="M166.19 308.4L167.69 309.9L166.19 311.4L164.69 309.9Z" fill="#0c6cd0"/><path d="M169.62 306.7L171.12 308.2L169.62 309.7L168.12 308.2Z" fill="#0c6cd0"/><path d="M173.06 307.8L174.56 309.3L173.06 310.8L171.56 309.3Z" fill="#0c6cd0"/><path d="M176.49 308.4L177.99 309.9L176.49 311.4L174.99 309.9Z" fill="#0c6cd0"/><path d="M179.92 320.3L181.42 321.8L179.92 323.3L178.42 321.8Z" fill="#0c6cd0"/><path d="M183.35 304.6L184.85 306.1L183.35 307.6L181.85 306.1Z" fill="#0c6cd0"/><path d="M186.78 317.2L188.28 318.7L186.78 320.2L185.28 318.7Z" fill="#0c6cd0"/><polyline points="39.22,243.6 42.65,253 46.08,282.3 49.51,275.1 52.94,264.9 56.38,291.7 59.81,278.9 63.24,290.8 66.67,292.6 70.1,291 73.53,266.7 76.97,295.3 80.4,291.2 83.83,263.2 87.26,257.3 90.69,257.3 94.12,253.8 97.56,297.3 100.99,297.3 104.42,273.7 107.85,289.9 111.28,300.7 114.72,269.4 118.15,289 121.58,282.1 125.01,266.8 128.44,259.1 131.88,276.5 135.31,281.1 138.74,260.2 142.17,303 145.6,205.5 149.03,289.4 152.47,276.9 155.9,296 159.33,303.6 162.76,259.1 166.19,305.8 169.62,295.6 173.06,306.9 176.49,286.2 179.92,304.7 183.35,294.6 186.78,293.6" fill="none" stroke="#ff2a2a" stroke-width="1.3" stroke-linejoin="round"/><path d="M39.22 241.8L41.02 245.04L37.42 245.04Z" fill="#f00000"/><path d="M42.65 251.2L44.45 254.44L40.85 254.44Z" fill="#f00000"/><path d="M46.08 280.5L47.88 283.74L44.28 283.74Z" fill="#f00000"/><path d="M49.51 273.3L51.31 276.54L47.71 276.54Z" fill="#f00000"/><path d="M52.94 263.1L54.74 266.34L51.14 266.34Z" fill="#f00000"/><path d="M56.38 289.9L58.17 293.14L54.58 293.14Z" fill="#f00000"/><path d="M59.81 277.1L61.61 280.34L58.01 280.34Z" fill="#f00000"/><path d="M63.24 289L65.04 292.24L61.44 292.24Z" fill="#f00000"/><path d="M66.67 290.8L68.47 294.04L64.87 294.04Z" fill="#f00000"/><path d="M70.1 289.2L71.9 292.44L68.3 292.44Z" fill="#f00000"/><path d="M73.53 264.9L75.33 268.14L71.73 268.14Z" fill="#f00000"/><path d="M76.97 293.5L78.77 296.74L75.17 296.74Z" fill="#f00000"/><path d="M80.4 289.4L82.2 292.64L78.6 292.64Z" fill="#f00000"/><path d="M83.83 261.4L85.63 264.64L82.03 264.64Z" fill="#f00000"/><path d="M87.26 255.5L89.06 258.74L85.46 258.74Z" fill="#f00000"/><path d="M90.69 255.5L92.49 258.74L88.89 258.74Z" fill="#f00000"/><path d="M94.12 252L95.92 255.24L92.33 255.24Z" fill="#f00000"/><path d="M97.56 295.5L99.36 298.74L95.76 298.74Z" fill="#f00000"/><path d="M100.99 295.5L102.79 298.74L99.19 298.74Z" fill="#f00000"/><path d="M104.42 271.9L106.22 275.14L102.62 275.14Z" fill="#f00000"/><path d="M107.85 288.1L109.65 291.34L106.05 291.34Z" fill="#f00000"/><path d="M111.28 298.9L113.08 302.14L109.48 302.14Z" fill="#f00000"/><path d="M114.72 267.6L116.52 270.84L112.92 270.84Z" fill="#f00000"/><path d="M118.15 287.2L119.95 290.44L116.35 290.44Z" fill="#f00000"/><path d="M121.58 280.3L123.38 283.54L119.78 283.54Z" fill="#f00000"/><path d="M125.01 265L126.81 268.24L123.21 268.24Z" fill="#f00000"/><path d="M128.44 257.3L130.24 260.54L126.64 260.54Z" fill="#f00000"/><path d="M131.88 274.7L133.68 277.94L130.07 277.94Z" fill="#f00000"/><path d="M135.31 279.3L137.11 282.54L133.51 282.54Z" fill="#f00000"/><path d="M138.74 258.4L140.54 261.64L136.94 261.64Z" fill="#f00000"/><path d="M142.17 301.2L143.97 304.44L140.37 304.44Z" fill="#f00000"/><path d="M145.6 203.7L147.4 206.94L143.8 206.94Z" fill="#f00000"/><path d="M149.03 287.6L150.83 290.84L147.23 290.84Z" fill="#f00000"/><path d="M152.47 275.1L154.27 278.34L150.67 278.34Z" fill="#f00000"/><path d="M155.9 294.2L157.7 297.44L154.1 297.44Z" fill="#f00000"/><path d="M159.33 301.8L161.13 305.04L157.53 305.04Z" fill="#f00000"/><path d="M162.76 257.3L164.56 260.54L160.96 260.54Z" fill="#f00000"/><path d="M166.19 304L167.99 307.24L164.39 307.24Z" fill="#f00000"/><path d="M169.62 293.8L171.43 297.04L167.82 297.04Z" fill="#f00000"/><path d="M173.06 305.1L174.86 308.34L171.26 308.34Z" fill="#f00000"/><path d="M176.49 284.4L178.29 287.64L174.69 287.64Z" fill="#f00000"/><path d="M179.92 302.9L181.72 306.14L178.12 306.14Z" fill="#f00000"/><path d="M183.35 292.8L185.15 296.04L181.55 296.04Z" fill="#f00000"/><path d="M186.78 291.8L188.58 295.04L184.98 295.04Z" fill="#f00000"/><polyline points="39.22,261.5 42.65,286 46.08,269.1 49.51,281.9 52.94,281.3 56.38,287.9 59.81,298.3 63.24,302.1 66.67,282.3 70.1,290.8 73.53,285 76.97,306.8 80.4,287.5 83.83,299.2 87.26,279.4 90.69,302.1 94.12,287 97.56,287 100.99,281.3 104.42,286 107.85,288.3 111.28,300.9 114.72,277.3 118.15,299.9 121.58,284.2 125.01,277.9 128.44,263.9 131.88,272.3 135.31,262.7 138.74,291.5 142.17,302 145.6,240.9 149.03,293.6 152.47,272.7 155.9,282.1 159.33,315.5 162.76,305.1 166.19,303 169.62,308.2 173.06,289.4 176.49,305.1 179.92,299.9 183.35,307.2 186.78,312.4" fill="none" stroke="#22b45a" stroke-width="1.3" stroke-linejoin="round"/><circle cx="39.22" cy="261.5" r="1.7" fill="#0ea040"/><circle cx="42.65" cy="286" r="1.7" fill="#0ea040"/><circle cx="46.08" cy="269.1" r="1.7" fill="#0ea040"/><circle cx="49.51" cy="281.9" r="1.7" fill="#0ea040"/><circle cx="52.94" cy="281.3" r="1.7" fill="#0ea040"/><circle cx="56.38" cy="287.9" r="1.7" fill="#0ea040"/><circle cx="59.81" cy="298.3" r="1.7" fill="#0ea040"/><circle cx="63.24" cy="302.1" r="1.7" fill="#0ea040"/><circle cx="66.67" cy="282.3" r="1.7" fill="#0ea040"/><circle cx="70.1" cy="290.8" r="1.7" fill="#0ea040"/><circle cx="73.53" cy="285" r="1.7" fill="#0ea040"/><circle cx="76.97" cy="306.8" r="1.7" fill="#0ea040"/><circle cx="80.4" cy="287.5" r="1.7" fill="#0ea040"/><circle cx="83.83" cy="299.2" r="1.7" fill="#0ea040"/><circle cx="87.26" cy="279.4" r="1.7" fill="#0ea040"/><circle cx="90.69" cy="302.1" r="1.7" fill="#0ea040"/><circle cx="94.12" cy="287" r="1.7" fill="#0ea040"/><circle cx="97.56" cy="287" r="1.7" fill="#0ea040"/><circle cx="100.99" cy="281.3" r="1.7" fill="#0ea040"/><circle cx="104.42" cy="286" r="1.7" fill="#0ea040"/><circle cx="107.85" cy="288.3" r="1.7" fill="#0ea040"/><circle cx="111.28" cy="300.9" r="1.7" fill="#0ea040"/><circle cx="114.72" cy="277.3" r="1.7" fill="#0ea040"/><circle cx="118.15" cy="299.9" r="1.7" fill="#0ea040"/><circle cx="121.58" cy="284.2" r="1.7" fill="#0ea040"/><circle cx="125.01" cy="277.9" r="1.7" fill="#0ea040"/><circle cx="128.44" cy="263.9" r="1.7" fill="#0ea040"/><circle cx="131.88" cy="272.3" r="1.7" fill="#0ea040"/><circle cx="135.31" cy="262.7" r="1.7" fill="#0ea040"/><circle cx="138.74" cy="291.5" r="1.7" fill="#0ea040"/><circle cx="142.17" cy="302" r="1.7" fill="#0ea040"/><circle cx="145.6" cy="240.9" r="1.7" fill="#0ea040"/><circle cx="149.03" cy="293.6" r="1.7" fill="#0ea040"/><circle cx="152.47" cy="272.7" r="1.7" fill="#0ea040"/><circle cx="155.9" cy="282.1" r="1.7" fill="#0ea040"/><circle cx="159.33" cy="315.5" r="1.7" fill="#0ea040"/><circle cx="162.76" cy="305.1" r="1.7" fill="#0ea040"/><circle cx="166.19" cy="303" r="1.7" fill="#0ea040"/><circle cx="169.62" cy="308.2" r="1.7" fill="#0ea040"/><circle cx="173.06" cy="289.4" r="1.7" fill="#0ea040"/><circle cx="176.49" cy="305.1" r="1.7" fill="#0ea040"/><circle cx="179.92" cy="299.9" r="1.7" fill="#0ea040"/><circle cx="183.35" cy="307.2" r="1.7" fill="#0ea040"/><circle cx="186.78" cy="312.4" r="1.7" fill="#0ea040"/><line x1="42.8" y1="203.5" x2="59.9" y2="203.5" stroke="#3b8fe0" stroke-width="1.3"/><path d="M51.7 202L53.2 203.5L51.7 205L50.2 203.5Z" fill="#0c6cd0"/><text class="lg" x="61.4" y="205.45" font-size="7.0" textLength="24.9" lengthAdjust="spacingAndGlyphs">Khopasi</text><line x1="91" y1="203.5" x2="107.1" y2="203.5" stroke="#ff2a2a" stroke-width="1.3"/><path d="M98.8 201.7L100.6 204.94L97 204.94Z" fill="#f00000"/><text class="lg" x="108.7" y="205.45" font-size="7.0" textLength="27.4" lengthAdjust="spacingAndGlyphs">Godavari</text><line x1="140.8" y1="203.5" x2="157.3" y2="203.5" stroke="#22b45a" stroke-width="1.3"/><circle cx="149.1" cy="203.5" r="1.7" fill="#0ea040"/><text class="lg" x="158.7" y="205.45" font-size="7.0" textLength="28.6" lengthAdjust="spacingAndGlyphs">Dhulikhel</text><text class="st" x="40.5" y="212.5" font-size="5.9">r</text><text class="sp" x="42.6" y="210.1" font-size="4.0">2</text><text class="st" x="46.2" y="212.5" font-size="5.9" textLength="39.1" lengthAdjust="spacingAndGlyphs">=0.03, p=0.27</text><text class="st" x="91.9" y="212.5" font-size="5.9">r</text><text class="sp" x="94" y="210.1" font-size="4.0">2</text><text class="st" x="97.6" y="212.5" font-size="5.9" textLength="39.7" lengthAdjust="spacingAndGlyphs">=0.07, p=0.07</text><text class="st" x="145.3" y="212.5" font-size="5.9">r</text><text class="sp" x="147.4" y="210.1" font-size="4.0">2</text><text class="st" x="149.6" y="212.5" font-size="5.9" textLength="35.7" lengthAdjust="spacingAndGlyphs">=0.84,p=0.05</text></g>
<g><rect x="251.5" y="197.5" width="152.2" height="147.8" fill="none" stroke="#8a8a8a" stroke-width="1"/><text class="t" x="244" y="200" font-size="7.0" text-anchor="end" textLength="10.74" lengthAdjust="spacingAndGlyphs">250</text><line x1="251.5" y1="234.45" x2="254.5" y2="234.45" stroke="#8a8a8a" stroke-width="1"/><text class="t" x="244" y="236.95" font-size="7.0" text-anchor="end" textLength="10.74" lengthAdjust="spacingAndGlyphs">200</text><line x1="251.5" y1="271.4" x2="254.5" y2="271.4" stroke="#8a8a8a" stroke-width="1"/><text class="t" x="244" y="273.9" font-size="7.0" text-anchor="end" textLength="10.74" lengthAdjust="spacingAndGlyphs">150</text><line x1="251.5" y1="308.35" x2="254.5" y2="308.35" stroke="#8a8a8a" stroke-width="1"/><text class="t" x="244" y="310.85" font-size="7.0" text-anchor="end" textLength="10.74" lengthAdjust="spacingAndGlyphs">100</text><text class="t" x="244" y="347.8" font-size="7.0" text-anchor="end" textLength="7.16" lengthAdjust="spacingAndGlyphs">50</text><text class="t" x="253.23" y="358.6" font-size="7.0" text-anchor="middle" textLength="14.1" lengthAdjust="spacingAndGlyphs">1971</text><text class="t" x="273.98" y="358.6" font-size="7.0" text-anchor="middle" textLength="14.1" lengthAdjust="spacingAndGlyphs">1977</text><text class="t" x="294.74" y="358.6" font-size="7.0" text-anchor="middle" textLength="14.1" lengthAdjust="spacingAndGlyphs">1983</text><text class="t" x="315.49" y="358.6" font-size="7.0" text-anchor="middle" textLength="14.1" lengthAdjust="spacingAndGlyphs">1989</text><text class="t" x="336.25" y="358.6" font-size="7.0" text-anchor="middle" textLength="14.1" lengthAdjust="spacingAndGlyphs">1995</text><text class="t" x="357" y="358.6" font-size="7.0" text-anchor="middle" textLength="14.1" lengthAdjust="spacingAndGlyphs">2001</text><text class="t" x="377.76" y="358.6" font-size="7.0" text-anchor="middle" textLength="14.1" lengthAdjust="spacingAndGlyphs">2007</text><text class="t" x="398.51" y="358.6" font-size="7.0" text-anchor="middle" textLength="14.1" lengthAdjust="spacingAndGlyphs">2013</text><text class="t" x="323.5" y="367.6" font-size="7.4" text-anchor="middle">Year</text><text class="yl" transform="translate(221.5,274.65) rotate(-90)" font-size="6.6" text-anchor="middle" textLength="134.5" lengthAdjust="spacingAndGlyphs">Number of dry spells (consecutive period with</text><text class="yl" transform="translate(230.5,274.65) rotate(-90)" font-size="6.6" text-anchor="middle" textLength="53.1" lengthAdjust="spacingAndGlyphs">8 dry days) (FDD)</text><line x1="253.23" y1="290.41" x2="401.97" y2="265.29" stroke="#ff9a9a" stroke-width="0.9"/><line x1="253.23" y1="283.88" x2="401.97" y2="273.12" stroke="#8ee0b4" stroke-width="0.9"/><line x1="253.23" y1="280.43" x2="401.97" y2="274.07" stroke="#8cc8f0" stroke-width="0.9"/><polyline points="253.23,285.9 256.69,268.7 260.15,290.1 263.61,285.9 267.07,279.2 270.52,257.6 273.98,289.3 277.44,300.8 280.9,274.8 284.36,281.7 287.82,283.6 291.28,274.8 294.74,285.9 298.2,278 301.66,275.4 305.12,284 308.57,292.6 312.03,285.9 315.49,256.8 318.95,284.4 322.41,264.9 325.87,266 329.33,281.4 332.79,275.7 336.25,273.8 339.71,269.9 343.17,304.9 346.62,291.9 350.08,249.9 353.54,261.7 357,266.7 360.46,295.7 363.92,292.9 367.38,279.5 370.84,292.9 374.3,282.4 377.76,292.3 381.22,278.5 384.67,257.9 388.13,260.4 391.59,293.8 395.05,232.3 398.51,265.2 401.97,277.6" fill="none" stroke="#3b8fe0" stroke-width="1.3" stroke-linejoin="round"/><path d="M253.23 284.4L254.73 285.9L253.23 287.4L251.73 285.9Z" fill="#0c6cd0"/><path d="M256.69 267.2L258.19 268.7L256.69 270.2L255.19 268.7Z" fill="#0c6cd0"/><path d="M260.15 288.6L261.65 290.1L260.15 291.6L258.65 290.1Z" fill="#0c6cd0"/><path d="M263.61 284.4L265.11 285.9L263.61 287.4L262.11 285.9Z" fill="#0c6cd0"/><path d="M267.07 277.7L268.57 279.2L267.07 280.7L265.57 279.2Z" fill="#0c6cd0"/><path d="M270.52 256.1L272.02 257.6L270.52 259.1L269.02 257.6Z" fill="#0c6cd0"/><path d="M273.98 287.8L275.48 289.3L273.98 290.8L272.48 289.3Z" fill="#0c6cd0"/><path d="M277.44 299.3L278.94 300.8L277.44 302.3L275.94 300.8Z" fill="#0c6cd0"/><path d="M280.9 273.3L282.4 274.8L280.9 276.3L279.4 274.8Z" fill="#0c6cd0"/><path d="M284.36 280.2L285.86 281.7L284.36 283.2L282.86 281.7Z" fill="#0c6cd0"/><path d="M287.82 282.1L289.32 283.6L287.82 285.1L286.32 283.6Z" fill="#0c6cd0"/><path d="M291.28 273.3L292.78 274.8L291.28 276.3L289.78 274.8Z" fill="#0c6cd0"/><path d="M294.74 284.4L296.24 285.9L294.74 287.4L293.24 285.9Z" fill="#0c6cd0"/><path d="M298.2 276.5L299.7 278L298.2 279.5L296.7 278Z" fill="#0c6cd0"/><path d="M301.66 273.9L303.16 275.4L301.66 276.9L300.16 275.4Z" fill="#0c6cd0"/><path d="M305.12 282.5L306.62 284L305.12 285.5L303.62 284Z" fill="#0c6cd0"/><path d="M308.57 291.1L310.07 292.6L308.57 294.1L307.07 292.6Z" fill="#0c6cd0"/><path d="M312.03 284.4L313.53 285.9L312.03 287.4L310.53 285.9Z" fill="#0c6cd0"/><path d="M315.49 255.3L316.99 256.8L315.49 258.3L313.99 256.8Z" fill="#0c6cd0"/><path d="M318.95 282.9L320.45 284.4L318.95 285.9L317.45 284.4Z" fill="#0c6cd0"/><path d="M322.41 263.4L323.91 264.9L322.41 266.4L320.91 264.9Z" fill="#0c6cd0"/><path d="M325.87 264.5L327.37 266L325.87 267.5L324.37 266Z" fill="#0c6cd0"/><path d="M329.33 279.9L330.83 281.4L329.33 282.9L327.83 281.4Z" fill="#0c6cd0"/><path d="M332.79 274.2L334.29 275.7L332.79 277.2L331.29 275.7Z" fill="#0c6cd0"/><path d="M336.25 272.3L337.75 273.8L336.25 275.3L334.75 273.8Z" fill="#0c6cd0"/><path d="M339.71 268.4L341.21 269.9L339.71 271.4L338.21 269.9Z" fill="#0c6cd0"/><path d="M343.17 303.4L344.67 304.9L343.17 306.4L341.67 304.9Z" fill="#0c6cd0"/><path d="M346.62 290.4L348.12 291.9L346.62 293.4L345.12 291.9Z" fill="#0c6cd0"/><path d="M350.08 248.4L351.58 249.9L350.08 251.4L348.58 249.9Z" fill="#0c6cd0"/><path d="M353.54 260.2L355.04 261.7L353.54 263.2L352.04 261.7Z" fill="#0c6cd0"/><path d="M357 265.2L358.5 266.7L357 268.2L355.5 266.7Z" fill="#0c6cd0"/><path d="M360.46 294.2L361.96 295.7L360.46 297.2L358.96 295.7Z" fill="#0c6cd0"/><path d="M363.92 291.4L365.42 292.9L363.92 294.4L362.42 292.9Z" fill="#0c6cd0"/><path d="M367.38 278L368.88 279.5L367.38 281L365.88 279.5Z" fill="#0c6cd0"/><path d="M370.84 291.4L372.34 292.9L370.84 294.4L369.34 292.9Z" fill="#0c6cd0"/><path d="M374.3 280.9L375.8 282.4L374.3 283.9L372.8 282.4Z" fill="#0c6cd0"/><path d="M377.76 290.8L379.26 292.3L377.76 293.8L376.26 292.3Z" fill="#0c6cd0"/><path d="M381.22 277L382.72 278.5L381.22 280L379.72 278.5Z" fill="#0c6cd0"/><path d="M384.67 256.4L386.17 257.9L384.67 259.4L383.17 257.9Z" fill="#0c6cd0"/><path d="M388.13 258.9L389.63 260.4L388.13 261.9L386.63 260.4Z" fill="#0c6cd0"/><path d="M391.59 292.3L393.09 293.8L391.59 295.3L390.09 293.8Z" fill="#0c6cd0"/><path d="M395.05 230.8L396.55 232.3L395.05 233.8L393.55 232.3Z" fill="#0c6cd0"/><path d="M398.51 263.7L400.01 265.2L398.51 266.7L397.01 265.2Z" fill="#0c6cd0"/><path d="M401.97 276.1L403.47 277.6L401.97 279.1L400.47 277.6Z" fill="#0c6cd0"/><polyline points="253.23,292 256.69,275.4 260.15,290.1 263.61,284.9 267.07,271.5 270.52,264.5 273.98,295.4 277.44,292.6 280.9,277.9 284.36,293.5 287.82,299.7 291.28,292 294.74,289.3 298.2,272.9 301.66,268.7 305.12,303.1 308.57,295.8 312.03,304.1 315.49,270.2 318.95,295.4 322.41,271.5 325.87,267 329.33,286.6 332.79,270.5 336.25,271.3 339.71,277 343.17,295.4 346.62,266.1 350.08,259.4 353.54,274.3 357,265.5 360.46,295.7 363.92,295.7 367.38,268.6 370.84,269.4 374.3,275.2 377.76,275.6 381.22,275.6 384.67,254.8 388.13,243.9 391.59,271.5 395.05,234.5 398.51,262.1 401.97,284.6" fill="none" stroke="#ff2a2a" stroke-width="1.3" stroke-linejoin="round"/><path d="M253.23 290.2L255.03 293.44L251.43 293.44Z" fill="#f00000"/><path d="M256.69 273.6L258.49 276.84L254.89 276.84Z" fill="#f00000"/><path d="M260.15 288.3L261.95 291.54L258.35 291.54Z" fill="#f00000"/><path d="M263.61 283.1L265.41 286.34L261.81 286.34Z" fill="#f00000"/><path d="M267.07 269.7L268.87 272.94L265.27 272.94Z" fill="#f00000"/><path d="M270.52 262.7L272.32 265.94L268.72 265.94Z" fill="#f00000"/><path d="M273.98 293.6L275.78 296.84L272.18 296.84Z" fill="#f00000"/><path d="M277.44 290.8L279.24 294.04L275.64 294.04Z" fill="#f00000"/><path d="M280.9 276.1L282.7 279.34L279.1 279.34Z" fill="#f00000"/><path d="M284.36 291.7L286.16 294.94L282.56 294.94Z" fill="#f00000"/><path d="M287.82 297.9L289.62 301.14L286.02 301.14Z" fill="#f00000"/><path d="M291.28 290.2L293.08 293.44L289.48 293.44Z" fill="#f00000"/><path d="M294.74 287.5L296.54 290.74L292.94 290.74Z" fill="#f00000"/><path d="M298.2 271.1L300 274.34L296.4 274.34Z" fill="#f00000"/><path d="M301.66 266.9L303.46 270.14L299.86 270.14Z" fill="#f00000"/><path d="M305.12 301.3L306.92 304.54L303.32 304.54Z" fill="#f00000"/><path d="M308.57 294L310.38 297.24L306.77 297.24Z" fill="#f00000"/><path d="M312.03 302.3L313.83 305.54L310.23 305.54Z" fill="#f00000"/><path d="M315.49 268.4L317.29 271.64L313.69 271.64Z" fill="#f00000"/><path d="M318.95 293.6L320.75 296.84L317.15 296.84Z" fill="#f00000"/><path d="M322.41 269.7L324.21 272.94L320.61 272.94Z" fill="#f00000"/><path d="M325.87 265.2L327.67 268.44L324.07 268.44Z" fill="#f00000"/><path d="M329.33 284.8L331.13 288.04L327.53 288.04Z" fill="#f00000"/><path d="M332.79 268.7L334.59 271.94L330.99 271.94Z" fill="#f00000"/><path d="M336.25 269.5L338.05 272.74L334.45 272.74Z" fill="#f00000"/><path d="M339.71 275.2L341.51 278.44L337.91 278.44Z" fill="#f00000"/><path d="M343.17 293.6L344.97 296.84L341.37 296.84Z" fill="#f00000"/><path d="M346.62 264.3L348.43 267.54L344.82 267.54Z" fill="#f00000"/><path d="M350.08 257.6L351.88 260.84L348.28 260.84Z" fill="#f00000"/><path d="M353.54 272.5L355.34 275.74L351.74 275.74Z" fill="#f00000"/><path d="M357 263.7L358.8 266.94L355.2 266.94Z" fill="#f00000"/><path d="M360.46 293.9L362.26 297.14L358.66 297.14Z" fill="#f00000"/><path d="M363.92 293.9L365.72 297.14L362.12 297.14Z" fill="#f00000"/><path d="M367.38 266.8L369.18 270.04L365.58 270.04Z" fill="#f00000"/><path d="M370.84 267.6L372.64 270.84L369.04 270.84Z" fill="#f00000"/><path d="M374.3 273.4L376.1 276.64L372.5 276.64Z" fill="#f00000"/><path d="M377.76 273.8L379.56 277.04L375.96 277.04Z" fill="#f00000"/><path d="M381.22 273.8L383.02 277.04L379.42 277.04Z" fill="#f00000"/><path d="M384.67 253L386.47 256.24L382.87 256.24Z" fill="#f00000"/><path d="M388.13 242.1L389.93 245.34L386.33 245.34Z" fill="#f00000"/><path d="M391.59 269.7L393.39 272.94L389.79 272.94Z" fill="#f00000"/><path d="M395.05 232.7L396.85 235.94L393.25 235.94Z" fill="#f00000"/><path d="M398.51 260.3L400.31 263.54L396.71 263.54Z" fill="#f00000"/><path d="M401.97 282.8L403.77 286.04L400.17 286.04Z" fill="#f00000"/><polyline points="253.23,287.8 256.69,281.1 260.15,290.1 263.61,291.6 267.07,293.9 270.52,260.1 273.98,298.9 277.44,297.4 280.9,313.6 284.36,272.9 287.82,283.6 291.28,278.2 294.74,286.3 298.2,257.6 301.66,274.4 305.12,287.8 308.57,264.9 312.03,285 315.49,266.8 318.95,297.4 322.41,264.9 325.87,280.4 329.33,281.4 332.79,276.2 336.25,273.2 339.71,269.4 343.17,279.5 346.62,273.2 350.08,241.3 353.54,270.9 357,270.5 360.46,303 363.92,292.9 367.38,275.1 370.84,280.1 374.3,275.1 377.76,290 381.22,283.3 384.67,257.5 388.13,276.2 391.59,294.2 395.05,244.5 398.51,280.4 401.97,277" fill="none" stroke="#22b45a" stroke-width="1.3" stroke-linejoin="round"/><circle cx="253.23" cy="287.8" r="1.7" fill="#0ea040"/><circle cx="256.69" cy="281.1" r="1.7" fill="#0ea040"/><circle cx="260.15" cy="290.1" r="1.7" fill="#0ea040"/><circle cx="263.61" cy="291.6" r="1.7" fill="#0ea040"/><circle cx="267.07" cy="293.9" r="1.7" fill="#0ea040"/><circle cx="270.52" cy="260.1" r="1.7" fill="#0ea040"/><circle cx="273.98" cy="298.9" r="1.7" fill="#0ea040"/><circle cx="277.44" cy="297.4" r="1.7" fill="#0ea040"/><circle cx="280.9" cy="313.6" r="1.7" fill="#0ea040"/><circle cx="284.36" cy="272.9" r="1.7" fill="#0ea040"/><circle cx="287.82" cy="283.6" r="1.7" fill="#0ea040"/><circle cx="291.28" cy="278.2" r="1.7" fill="#0ea040"/><circle cx="294.74" cy="286.3" r="1.7" fill="#0ea040"/><circle cx="298.2" cy="257.6" r="1.7" fill="#0ea040"/><circle cx="301.66" cy="274.4" r="1.7" fill="#0ea040"/><circle cx="305.12" cy="287.8" r="1.7" fill="#0ea040"/><circle cx="308.57" cy="264.9" r="1.7" fill="#0ea040"/><circle cx="312.03" cy="285" r="1.7" fill="#0ea040"/><circle cx="315.49" cy="266.8" r="1.7" fill="#0ea040"/><circle cx="318.95" cy="297.4" r="1.7" fill="#0ea040"/><circle cx="322.41" cy="264.9" r="1.7" fill="#0ea040"/><circle cx="325.87" cy="280.4" r="1.7" fill="#0ea040"/><circle cx="329.33" cy="281.4" r="1.7" fill="#0ea040"/><circle cx="332.79" cy="276.2" r="1.7" fill="#0ea040"/><circle cx="336.25" cy="273.2" r="1.7" fill="#0ea040"/><circle cx="339.71" cy="269.4" r="1.7" fill="#0ea040"/><circle cx="343.17" cy="279.5" r="1.7" fill="#0ea040"/><circle cx="346.62" cy="273.2" r="1.7" fill="#0ea040"/><circle cx="350.08" cy="241.3" r="1.7" fill="#0ea040"/><circle cx="353.54" cy="270.9" r="1.7" fill="#0ea040"/><circle cx="357" cy="270.5" r="1.7" fill="#0ea040"/><circle cx="360.46" cy="303" r="1.7" fill="#0ea040"/><circle cx="363.92" cy="292.9" r="1.7" fill="#0ea040"/><circle cx="367.38" cy="275.1" r="1.7" fill="#0ea040"/><circle cx="370.84" cy="280.1" r="1.7" fill="#0ea040"/><circle cx="374.3" cy="275.1" r="1.7" fill="#0ea040"/><circle cx="377.76" cy="290" r="1.7" fill="#0ea040"/><circle cx="381.22" cy="283.3" r="1.7" fill="#0ea040"/><circle cx="384.67" cy="257.5" r="1.7" fill="#0ea040"/><circle cx="388.13" cy="276.2" r="1.7" fill="#0ea040"/><circle cx="391.59" cy="294.2" r="1.7" fill="#0ea040"/><circle cx="395.05" cy="244.5" r="1.7" fill="#0ea040"/><circle cx="398.51" cy="280.4" r="1.7" fill="#0ea040"/><circle cx="401.97" cy="277" r="1.7" fill="#0ea040"/><line x1="256.8" y1="203.6" x2="273.9" y2="203.6" stroke="#3b8fe0" stroke-width="1.3"/><path d="M265.7 202.1L267.2 203.6L265.7 205.1L264.2 203.6Z" fill="#0c6cd0"/><text class="lg" x="275.4" y="205.55" font-size="7.0" textLength="24.9" lengthAdjust="spacingAndGlyphs">Khopasi</text><line x1="305" y1="203.6" x2="321.1" y2="203.6" stroke="#ff2a2a" stroke-width="1.3"/><path d="M312.8 201.8L314.6 205.04L311 205.04Z" fill="#f00000"/><text class="lg" x="322.7" y="205.55" font-size="7.0" textLength="27.4" lengthAdjust="spacingAndGlyphs">Godavari</text><line x1="354.8" y1="203.6" x2="371.3" y2="203.6" stroke="#22b45a" stroke-width="1.3"/><circle cx="363.1" cy="203.6" r="1.7" fill="#0ea040"/><text class="lg" x="372.7" y="205.55" font-size="7.0" textLength="28.6" lengthAdjust="spacingAndGlyphs">Dhulikhel</text><text class="st" x="257" y="214" font-size="5.9">r</text><text class="sp" x="259.1" y="211.6" font-size="4.0">2</text><text class="st" x="261.3" y="214" font-size="5.9" textLength="38.3" lengthAdjust="spacingAndGlyphs">=0.02, p=0.31</text><text class="st" x="307.4" y="214" font-size="5.9">r</text><text class="sp" x="309.5" y="211.6" font-size="4.0">2</text><text class="st" x="311.7" y="214" font-size="5.9" textLength="38.6" lengthAdjust="spacingAndGlyphs">=0.23, p=0.00</text><text class="st" x="356.9" y="214" font-size="5.9">r</text><text class="sp" x="359" y="211.6" font-size="4.0">2</text><text class="st" x="361.2" y="214" font-size="5.9" textLength="38.7" lengthAdjust="spacingAndGlyphs">=0.07, p=0.07</text></g>
<g><rect x="36.5" y="376.4" width="151.9" height="146.8" fill="none" stroke="#8a8a8a" stroke-width="1"/><text class="t" x="29" y="378.9" font-size="7.0" text-anchor="end" textLength="7.16" lengthAdjust="spacingAndGlyphs">50</text><line x1="36.5" y1="405.76" x2="39.5" y2="405.76" stroke="#8a8a8a" stroke-width="1"/><text class="t" x="29" y="408.26" font-size="7.0" text-anchor="end" textLength="7.16" lengthAdjust="spacingAndGlyphs">40</text><line x1="36.5" y1="435.12" x2="39.5" y2="435.12" stroke="#8a8a8a" stroke-width="1"/><text class="t" x="29" y="437.62" font-size="7.0" text-anchor="end" textLength="7.16" lengthAdjust="spacingAndGlyphs">30</text><line x1="36.5" y1="464.48" x2="39.5" y2="464.48" stroke="#8a8a8a" stroke-width="1"/><text class="t" x="29" y="466.98" font-size="7.0" text-anchor="end" textLength="7.16" lengthAdjust="spacingAndGlyphs">20</text><line x1="36.5" y1="493.84" x2="39.5" y2="493.84" stroke="#8a8a8a" stroke-width="1"/><text class="t" x="29" y="496.34" font-size="7.0" text-anchor="end" textLength="7.16" lengthAdjust="spacingAndGlyphs">10</text><text class="t" x="29" y="525.7" font-size="7.0" text-anchor="end" textLength="3.58" lengthAdjust="spacingAndGlyphs">0</text><text class="t" x="38.23" y="536.5" font-size="7.0" text-anchor="middle" textLength="14.1" lengthAdjust="spacingAndGlyphs">1971</text><text class="t" x="58.94" y="536.5" font-size="7.0" text-anchor="middle" textLength="14.1" lengthAdjust="spacingAndGlyphs">1977</text><text class="t" x="79.65" y="536.5" font-size="7.0" text-anchor="middle" textLength="14.1" lengthAdjust="spacingAndGlyphs">1983</text><text class="t" x="100.37" y="536.5" font-size="7.0" text-anchor="middle" textLength="14.1" lengthAdjust="spacingAndGlyphs">1989</text><text class="t" x="121.08" y="536.5" font-size="7.0" text-anchor="middle" textLength="14.1" lengthAdjust="spacingAndGlyphs">1995</text><text class="t" x="141.79" y="536.5" font-size="7.0" text-anchor="middle" textLength="14.1" lengthAdjust="spacingAndGlyphs">2001</text><text class="t" x="162.51" y="536.5" font-size="7.0" text-anchor="middle" textLength="14.1" lengthAdjust="spacingAndGlyphs">2007</text><text class="t" x="183.22" y="536.5" font-size="7.0" text-anchor="middle" textLength="14.1" lengthAdjust="spacingAndGlyphs">2013</text><text class="t" x="108.5" y="546.1" font-size="7.4" text-anchor="middle">Year</text><text class="yl" transform="translate(7.5,449.6) rotate(-90)" font-size="6.6" text-anchor="middle" textLength="130.2" lengthAdjust="spacingAndGlyphs">Number of days with daily precipitation total</text><text class="yl" transform="translate(17.5,450.35) rotate(-90)" font-size="6.6" text-anchor="middle" textLength="44.3" lengthAdjust="spacingAndGlyphs">≥ 20 mm (R20)</text><line x1="38.23" y1="423.2" x2="186.67" y2="440.8" stroke="#ff9a9a" stroke-width="0.9"/><line x1="38.23" y1="437.22" x2="186.67" y2="456.28" stroke="#8ee0b4" stroke-width="0.9"/><line x1="38.23" y1="456.17" x2="186.67" y2="470.83" stroke="#8cc8f0" stroke-width="0.9"/><polyline points="38.23,473.2 41.68,455.7 45.13,455.7 48.58,433.5 52.04,451.5 55.49,453 58.94,473.2 62.39,444 65.84,462 69.3,493.3 72.75,479 76.2,470.5 79.65,461 83.11,458.3 86.56,441 90.01,467.1 93.46,453 96.91,446 100.37,467.2 103.82,473.1 107.27,479.1 110.72,487.9 114.18,449.5 117.63,485 121.08,470.2 124.53,470.5 127.99,443.8 131.44,464.4 134.89,438 138.34,473.3 141.79,460.7 145.25,418.4 148.7,428.9 152.15,462 155.6,484.7 159.06,461 162.51,452.9 165.96,487.8 169.41,490.8 172.86,493.9 176.32,461 179.77,493.9 183.22,476.5 186.67,482" fill="none" stroke="#3b8fe0" stroke-width="1.3" stroke-linejoin="round"/><path d="M38.23 471.7L39.73 473.2L38.23 474.7L36.73 473.2Z" fill="#0c6cd0"/><path d="M41.68 454.2L43.18 455.7L41.68 457.2L40.18 455.7Z" fill="#0c6cd0"/><path d="M45.13 454.2L46.63 455.7L45.13 457.2L43.63 455.7Z" fill="#0c6cd0"/><path d="M48.58 432L50.08 433.5L48.58 435L47.08 433.5Z" fill="#0c6cd0"/><path d="M52.04 450L53.54 451.5L52.04 453L50.54 451.5Z" fill="#0c6cd0"/><path d="M55.49 451.5L56.99 453L55.49 454.5L53.99 453Z" fill="#0c6cd0"/><path d="M58.94 471.7L60.44 473.2L58.94 474.7L57.44 473.2Z" fill="#0c6cd0"/><path d="M62.39 442.5L63.89 444L62.39 445.5L60.89 444Z" fill="#0c6cd0"/><path d="M65.84 460.5L67.34 462L65.84 463.5L64.34 462Z" fill="#0c6cd0"/><path d="M69.3 491.8L70.8 493.3L69.3 494.8L67.8 493.3Z" fill="#0c6cd0"/><path d="M72.75 477.5L74.25 479L72.75 480.5L71.25 479Z" fill="#0c6cd0"/><path d="M76.2 469L77.7 470.5L76.2 472L74.7 470.5Z" fill="#0c6cd0"/><path d="M79.65 459.5L81.15 461L79.65 462.5L78.15 461Z" fill="#0c6cd0"/><path d="M83.11 456.8L84.61 458.3L83.11 459.8L81.61 458.3Z" fill="#0c6cd0"/><path d="M86.56 439.5L88.06 441L86.56 442.5L85.06 441Z" fill="#0c6cd0"/><path d="M90.01 465.6L91.51 467.1L90.01 468.6L88.51 467.1Z" fill="#0c6cd0"/><path d="M93.46 451.5L94.96 453L93.46 454.5L91.96 453Z" fill="#0c6cd0"/><path d="M96.91 444.5L98.41 446L96.91 447.5L95.41 446Z" fill="#0c6cd0"/><path d="M100.37 465.7L101.87 467.2L100.37 468.7L98.87 467.2Z" fill="#0c6cd0"/><path d="M103.82 471.6L105.32 473.1L103.82 474.6L102.32 473.1Z" fill="#0c6cd0"/><path d="M107.27 477.6L108.77 479.1L107.27 480.6L105.77 479.1Z" fill="#0c6cd0"/><path d="M110.72 486.4L112.22 487.9L110.72 489.4L109.22 487.9Z" fill="#0c6cd0"/><path d="M114.18 448L115.68 449.5L114.18 451L112.68 449.5Z" fill="#0c6cd0"/><path d="M117.63 483.5L119.13 485L117.63 486.5L116.13 485Z" fill="#0c6cd0"/><path d="M121.08 468.7L122.58 470.2L121.08 471.7L119.58 470.2Z" fill="#0c6cd0"/><path d="M124.53 469L126.03 470.5L124.53 472L123.03 470.5Z" fill="#0c6cd0"/><path d="M127.99 442.3L129.49 443.8L127.99 445.3L126.49 443.8Z" fill="#0c6cd0"/><path d="M131.44 462.9L132.94 464.4L131.44 465.9L129.94 464.4Z" fill="#0c6cd0"/><path d="M134.89 436.5L136.39 438L134.89 439.5L133.39 438Z" fill="#0c6cd0"/><path d="M138.34 471.8L139.84 473.3L138.34 474.8L136.84 473.3Z" fill="#0c6cd0"/><path d="M141.79 459.2L143.29 460.7L141.79 462.2L140.29 460.7Z" fill="#0c6cd0"/><path d="M145.25 416.9L146.75 418.4L145.25 419.9L143.75 418.4Z" fill="#0c6cd0"/><path d="M148.7 427.4L150.2 428.9L148.7 430.4L147.2 428.9Z" fill="#0c6cd0"/><path d="M152.15 460.5L153.65 462L152.15 463.5L150.65 462Z" fill="#0c6cd0"/><path d="M155.6 483.2L157.1 484.7L155.6 486.2L154.1 484.7Z" fill="#0c6cd0"/><path d="M159.06 459.5L160.56 461L159.06 462.5L157.56 461Z" fill="#0c6cd0"/><path d="M162.51 451.4L164.01 452.9L162.51 454.4L161.01 452.9Z" fill="#0c6cd0"/><path d="M165.96 486.3L167.46 487.8L165.96 489.3L164.46 487.8Z" fill="#0c6cd0"/><path d="M169.41 489.3L170.91 490.8L169.41 492.3L167.91 490.8Z" fill="#0c6cd0"/><path d="M172.86 492.4L174.36 493.9L172.86 495.4L171.36 493.9Z" fill="#0c6cd0"/><path d="M176.32 459.5L177.82 461L176.32 462.5L174.82 461Z" fill="#0c6cd0"/><path d="M179.77 492.4L181.27 493.9L179.77 495.4L178.27 493.9Z" fill="#0c6cd0"/><path d="M183.22 475L184.72 476.5L183.22 478L181.72 476.5Z" fill="#0c6cd0"/><path d="M186.67 480.5L188.17 482L186.67 483.5L185.17 482Z" fill="#0c6cd0"/><polyline points="38.23,426.4 41.68,428.9 45.13,402.8 48.58,421 52.04,423.7 55.49,432.7 58.94,447.3 62.39,420.5 65.84,444 69.3,435.2 72.75,456.1 76.2,447.3 79.65,430 83.11,397.5 86.56,388.1 90.01,435.6 93.46,438.6 96.91,414.9 100.37,438.6 103.82,438.3 107.27,441.6 110.72,450.5 114.18,432.3 117.63,438.6 121.08,434 124.53,420.6 127.99,428.5 131.44,393.8 134.89,418 138.34,420.1 141.79,432.5 145.25,415 148.7,436 152.15,449.2 155.6,453.8 159.06,447.7 162.51,423.3 165.96,429.2 169.41,474.7 172.86,456.1 176.32,429.2 179.77,462 183.22,441.6 186.67,459.2" fill="none" stroke="#ff2a2a" stroke-width="1.3" stroke-linejoin="round"/><path d="M38.23 424.6L40.03 427.84L36.43 427.84Z" fill="#f00000"/><path d="M41.68 427.1L43.48 430.34L39.88 430.34Z" fill="#f00000"/><path d="M45.13 401L46.93 404.24L43.33 404.24Z" fill="#f00000"/><path d="M48.58 419.2L50.38 422.44L46.78 422.44Z" fill="#f00000"/><path d="M52.04 421.9L53.84 425.14L50.24 425.14Z" fill="#f00000"/><path d="M55.49 430.9L57.29 434.14L53.69 434.14Z" fill="#f00000"/><path d="M58.94 445.5L60.74 448.74L57.14 448.74Z" fill="#f00000"/><path d="M62.39 418.7L64.19 421.94L60.59 421.94Z" fill="#f00000"/><path d="M65.84 442.2L67.64 445.44L64.04 445.44Z" fill="#f00000"/><path d="M69.3 433.4L71.1 436.64L67.5 436.64Z" fill="#f00000"/><path d="M72.75 454.3L74.55 457.54L70.95 457.54Z" fill="#f00000"/><path d="M76.2 445.5L78 448.74L74.4 448.74Z" fill="#f00000"/><path d="M79.65 428.2L81.45 431.44L77.85 431.44Z" fill="#f00000"/><path d="M83.11 395.7L84.91 398.94L81.31 398.94Z" fill="#f00000"/><path d="M86.56 386.3L88.36 389.54L84.76 389.54Z" fill="#f00000"/><path d="M90.01 433.8L91.81 437.04L88.21 437.04Z" fill="#f00000"/><path d="M93.46 436.8L95.26 440.04L91.66 440.04Z" fill="#f00000"/><path d="M96.91 413.1L98.71 416.34L95.11 416.34Z" fill="#f00000"/><path d="M100.37 436.8L102.17 440.04L98.57 440.04Z" fill="#f00000"/><path d="M103.82 436.5L105.62 439.74L102.02 439.74Z" fill="#f00000"/><path d="M107.27 439.8L109.07 443.04L105.47 443.04Z" fill="#f00000"/><path d="M110.72 448.7L112.52 451.94L108.92 451.94Z" fill="#f00000"/><path d="M114.18 430.5L115.98 433.74L112.38 433.74Z" fill="#f00000"/><path d="M117.63 436.8L119.43 440.04L115.83 440.04Z" fill="#f00000"/><path d="M121.08 432.2L122.88 435.44L119.28 435.44Z" fill="#f00000"/><path d="M124.53 418.8L126.33 422.04L122.73 422.04Z" fill="#f00000"/><path d="M127.99 426.7L129.79 429.94L126.19 429.94Z" fill="#f00000"/><path d="M131.44 392L133.24 395.24L129.64 395.24Z" fill="#f00000"/><path d="M134.89 416.2L136.69 419.44L133.09 419.44Z" fill="#f00000"/><path d="M138.34 418.3L140.14 421.54L136.54 421.54Z" fill="#f00000"/><path d="M141.79 430.7L143.59 433.94L139.99 433.94Z" fill="#f00000"/><path d="M145.25 413.2L147.05 416.44L143.45 416.44Z" fill="#f00000"/><path d="M148.7 434.2L150.5 437.44L146.9 437.44Z" fill="#f00000"/><path d="M152.15 447.4L153.95 450.64L150.35 450.64Z" fill="#f00000"/><path d="M155.6 452L157.4 455.24L153.8 455.24Z" fill="#f00000"/><path d="M159.06 445.9L160.86 449.14L157.26 449.14Z" fill="#f00000"/><path d="M162.51 421.5L164.31 424.74L160.71 424.74Z" fill="#f00000"/><path d="M165.96 427.4L167.76 430.64L164.16 430.64Z" fill="#f00000"/><path d="M169.41 472.9L171.21 476.14L167.61 476.14Z" fill="#f00000"/><path d="M172.86 454.3L174.66 457.54L171.06 457.54Z" fill="#f00000"/><path d="M176.32 427.4L178.12 430.64L174.52 430.64Z" fill="#f00000"/><path d="M179.77 460.2L181.57 463.44L177.97 463.44Z" fill="#f00000"/><path d="M183.22 439.8L185.02 443.04L181.42 443.04Z" fill="#f00000"/><path d="M186.67 457.4L188.47 460.64L184.87 460.64Z" fill="#f00000"/><polyline points="38.23,449.4 41.68,449.4 45.13,413.9 48.58,432.1 52.04,450.2 55.49,432.1 58.94,461.3 62.39,423.1 65.84,464.2 69.3,476 72.75,461.3 76.2,467 79.65,449.5 83.11,440.8 86.56,400 90.01,429.1 93.46,452.7 96.91,426.1 100.37,446.8 103.82,440.7 107.27,448.9 110.72,452.6 114.18,447 117.63,428.5 121.08,423.5 124.53,446.6 127.99,458.7 131.44,429.2 134.89,408.8 138.34,440.8 141.79,452.6 145.25,405.5 148.7,437.7 152.15,452.9 155.6,467.4 159.06,461.6 162.51,458.7 165.96,479.3 169.41,476.5 172.86,473.3 176.32,449.6 179.77,473.3 183.22,476.2 186.67,455.6" fill="none" stroke="#22b45a" stroke-width="1.3" stroke-linejoin="round"/><circle cx="38.23" cy="449.4" r="1.7" fill="#0ea040"/><circle cx="41.68" cy="449.4" r="1.7" fill="#0ea040"/><circle cx="45.13" cy="413.9" r="1.7" fill="#0ea040"/><circle cx="48.58" cy="432.1" r="1.7" fill="#0ea040"/><circle cx="52.04" cy="450.2" r="1.7" fill="#0ea040"/><circle cx="55.49" cy="432.1" r="1.7" fill="#0ea040"/><circle cx="58.94" cy="461.3" r="1.7" fill="#0ea040"/><circle cx="62.39" cy="423.1" r="1.7" fill="#0ea040"/><circle cx="65.84" cy="464.2" r="1.7" fill="#0ea040"/><circle cx="69.3" cy="476" r="1.7" fill="#0ea040"/><circle cx="72.75" cy="461.3" r="1.7" fill="#0ea040"/><circle cx="76.2" cy="467" r="1.7" fill="#0ea040"/><circle cx="79.65" cy="449.5" r="1.7" fill="#0ea040"/><circle cx="83.11" cy="440.8" r="1.7" fill="#0ea040"/><circle cx="86.56" cy="400" r="1.7" fill="#0ea040"/><circle cx="90.01" cy="429.1" r="1.7" fill="#0ea040"/><circle cx="93.46" cy="452.7" r="1.7" fill="#0ea040"/><circle cx="96.91" cy="426.1" r="1.7" fill="#0ea040"/><circle cx="100.37" cy="446.8" r="1.7" fill="#0ea040"/><circle cx="103.82" cy="440.7" r="1.7" fill="#0ea040"/><circle cx="107.27" cy="448.9" r="1.7" fill="#0ea040"/><circle cx="110.72" cy="452.6" r="1.7" fill="#0ea040"/><circle cx="114.18" cy="447" r="1.7" fill="#0ea040"/><circle cx="117.63" cy="428.5" r="1.7" fill="#0ea040"/><circle cx="121.08" cy="423.5" r="1.7" fill="#0ea040"/><circle cx="124.53" cy="446.6" r="1.7" fill="#0ea040"/><circle cx="127.99" cy="458.7" r="1.7" fill="#0ea040"/><circle cx="131.44" cy="429.2" r="1.7" fill="#0ea040"/><circle cx="134.89" cy="408.8" r="1.7" fill="#0ea040"/><circle cx="138.34" cy="440.8" r="1.7" fill="#0ea040"/><circle cx="141.79" cy="452.6" r="1.7" fill="#0ea040"/><circle cx="145.25" cy="405.5" r="1.7" fill="#0ea040"/><circle cx="148.7" cy="437.7" r="1.7" fill="#0ea040"/><circle cx="152.15" cy="452.9" r="1.7" fill="#0ea040"/><circle cx="155.6" cy="467.4" r="1.7" fill="#0ea040"/><circle cx="159.06" cy="461.6" r="1.7" fill="#0ea040"/><circle cx="162.51" cy="458.7" r="1.7" fill="#0ea040"/><circle cx="165.96" cy="479.3" r="1.7" fill="#0ea040"/><circle cx="169.41" cy="476.5" r="1.7" fill="#0ea040"/><circle cx="172.86" cy="473.3" r="1.7" fill="#0ea040"/><circle cx="176.32" cy="449.6" r="1.7" fill="#0ea040"/><circle cx="179.77" cy="473.3" r="1.7" fill="#0ea040"/><circle cx="183.22" cy="476.2" r="1.7" fill="#0ea040"/><circle cx="186.67" cy="455.6" r="1.7" fill="#0ea040"/><line x1="41.8" y1="382" x2="58.9" y2="382" stroke="#3b8fe0" stroke-width="1.3"/><path d="M50.7 380.5L52.2 382L50.7 383.5L49.2 382Z" fill="#0c6cd0"/><text class="lg" x="60.4" y="383.95" font-size="7.0" textLength="24.9" lengthAdjust="spacingAndGlyphs">Khopasi</text><line x1="90" y1="382" x2="106.1" y2="382" stroke="#ff2a2a" stroke-width="1.3"/><path d="M97.8 380.2L99.6 383.44L96 383.44Z" fill="#f00000"/><text class="lg" x="107.7" y="383.95" font-size="7.0" textLength="27.4" lengthAdjust="spacingAndGlyphs">Godavari</text><line x1="139.8" y1="382" x2="156.3" y2="382" stroke="#22b45a" stroke-width="1.3"/><circle cx="148.1" cy="382" r="1.7" fill="#0ea040"/><text class="lg" x="157.7" y="383.95" font-size="7.0" textLength="28.6" lengthAdjust="spacingAndGlyphs">Dhulikhel</text><text class="st" x="41.7" y="389.7" font-size="5.9">r</text><text class="sp" x="43.8" y="387.3" font-size="4.0">2</text><text class="st" x="46" y="389.7" font-size="5.9" textLength="39.7" lengthAdjust="spacingAndGlyphs">=0.06, p=0.09</text><text class="st" x="91.8" y="389.7" font-size="5.9">r</text><text class="sp" x="93.9" y="387.3" font-size="4.0">2</text><text class="st" x="96.1" y="389.7" font-size="5.9" textLength="39.2" lengthAdjust="spacingAndGlyphs">=0.09, p=0.03</text><text class="st" x="141.3" y="389.7" font-size="5.9">r</text><text class="sp" x="143.4" y="387.3" font-size="4.0">2</text><text class="st" x="145.6" y="389.7" font-size="5.9" textLength="39.3" lengthAdjust="spacingAndGlyphs">=0.09, p=0.05</text></g>
<g><rect x="251.3" y="376.6" width="152.7" height="147.4" fill="none" stroke="#8a8a8a" stroke-width="1"/><text class="t" x="244.1" y="379.1" font-size="7.0" text-anchor="end" textLength="12.53" lengthAdjust="spacingAndGlyphs">0.08</text><line x1="251.3" y1="413.45" x2="254.3" y2="413.45" stroke="#8a8a8a" stroke-width="1"/><text class="t" x="244.1" y="415.95" font-size="7.0" text-anchor="end" textLength="12.53" lengthAdjust="spacingAndGlyphs">0.06</text><line x1="251.3" y1="450.3" x2="254.3" y2="450.3" stroke="#8a8a8a" stroke-width="1"/><text class="t" x="244.1" y="452.8" font-size="7.0" text-anchor="end" textLength="12.53" lengthAdjust="spacingAndGlyphs">0.04</text><line x1="251.3" y1="487.15" x2="254.3" y2="487.15" stroke="#8a8a8a" stroke-width="1"/><text class="t" x="244.1" y="489.65" font-size="7.0" text-anchor="end" textLength="12.53" lengthAdjust="spacingAndGlyphs">0.02</text><text class="t" x="244.1" y="526.5" font-size="7.0" text-anchor="end" textLength="3.58" lengthAdjust="spacingAndGlyphs">0</text><text class="t" x="253.04" y="537.1" font-size="7.0" text-anchor="middle" textLength="14.1" lengthAdjust="spacingAndGlyphs">1971</text><text class="t" x="273.86" y="537.1" font-size="7.0" text-anchor="middle" textLength="14.1" lengthAdjust="spacingAndGlyphs">1977</text><text class="t" x="294.68" y="537.1" font-size="7.0" text-anchor="middle" textLength="14.1" lengthAdjust="spacingAndGlyphs">1983</text><text class="t" x="315.5" y="537.1" font-size="7.0" text-anchor="middle" textLength="14.1" lengthAdjust="spacingAndGlyphs">1989</text><text class="t" x="336.33" y="537.1" font-size="7.0" text-anchor="middle" textLength="14.1" lengthAdjust="spacingAndGlyphs">1995</text><text class="t" x="357.15" y="537.1" font-size="7.0" text-anchor="middle" textLength="14.1" lengthAdjust="spacingAndGlyphs">2001</text><text class="t" x="377.97" y="537.1" font-size="7.0" text-anchor="middle" textLength="14.1" lengthAdjust="spacingAndGlyphs">2007</text><text class="t" x="398.79" y="537.1" font-size="7.0" text-anchor="middle" textLength="14.1" lengthAdjust="spacingAndGlyphs">2013</text><text class="t" x="323.5" y="546.1" font-size="7.4" text-anchor="middle">Year</text><text class="yl" transform="translate(221.6,448.5) rotate(-90)" font-size="6.6" text-anchor="middle" textLength="128" lengthAdjust="spacingAndGlyphs">Ratio between the total rain on dry days and</text><text class="yl" transform="translate(231,448.7) rotate(-90)" font-size="6.6" text-anchor="middle" textLength="81.2" lengthAdjust="spacingAndGlyphs">the number of dry days (AII)</text><line x1="253.04" y1="450.5" x2="402.26" y2="493.5" stroke="#ff9a9a" stroke-width="0.9"/><line x1="253.04" y1="467.58" x2="402.26" y2="517.42" stroke="#8ee0b4" stroke-width="0.9"/><line x1="253.04" y1="480.38" x2="402.26" y2="426.62" stroke="#8cc8f0" stroke-width="0.9"/><polyline points="253.04,412.4 256.51,483.6 259.98,468.7 263.45,481.1 266.92,471.5 270.39,489.7 273.86,466.4 277.33,487.8 280.8,474.4 284.27,494.5 287.74,491.6 291.21,474.8 294.68,475.4 298.15,480.5 301.62,459.4 305.09,449.2 308.56,464.8 312.03,468.1 315.5,475 318.97,420.2 322.44,440 325.91,452.9 329.39,439.8 332.86,474.6 336.33,448.5 339.8,462.7 343.27,474.1 346.74,445.2 350.21,420.9 353.68,418.4 357.15,452.4 360.62,414.6 364.09,463.9 367.56,395.5 371.03,398.6 374.5,421.5 377.97,436.8 381.44,401.2 384.91,431.4 388.38,406.6 391.85,447.6 395.32,453.8 398.79,443.4 402.26,448.6" fill="none" stroke="#3b8fe0" stroke-width="1.3" stroke-linejoin="round"/><path d="M253.04 410.9L254.54 412.4L253.04 413.9L251.54 412.4Z" fill="#0c6cd0"/><path d="M256.51 482.1L258.01 483.6L256.51 485.1L255.01 483.6Z" fill="#0c6cd0"/><path d="M259.98 467.2L261.48 468.7L259.98 470.2L258.48 468.7Z" fill="#0c6cd0"/><path d="M263.45 479.6L264.95 481.1L263.45 482.6L261.95 481.1Z" fill="#0c6cd0"/><path d="M266.92 470L268.42 471.5L266.92 473L265.42 471.5Z" fill="#0c6cd0"/><path d="M270.39 488.2L271.89 489.7L270.39 491.2L268.89 489.7Z" fill="#0c6cd0"/><path d="M273.86 464.9L275.36 466.4L273.86 467.9L272.36 466.4Z" fill="#0c6cd0"/><path d="M277.33 486.3L278.83 487.8L277.33 489.3L275.83 487.8Z" fill="#0c6cd0"/><path d="M280.8 472.9L282.3 474.4L280.8 475.9L279.3 474.4Z" fill="#0c6cd0"/><path d="M284.27 493L285.77 494.5L284.27 496L282.77 494.5Z" fill="#0c6cd0"/><path d="M287.74 490.1L289.24 491.6L287.74 493.1L286.24 491.6Z" fill="#0c6cd0"/><path d="M291.21 473.3L292.71 474.8L291.21 476.3L289.71 474.8Z" fill="#0c6cd0"/><path d="M294.68 473.9L296.18 475.4L294.68 476.9L293.18 475.4Z" fill="#0c6cd0"/><path d="M298.15 479L299.65 480.5L298.15 482L296.65 480.5Z" fill="#0c6cd0"/><path d="M301.62 457.9L303.12 459.4L301.62 460.9L300.12 459.4Z" fill="#0c6cd0"/><path d="M305.09 447.7L306.59 449.2L305.09 450.7L303.59 449.2Z" fill="#0c6cd0"/><path d="M308.56 463.3L310.06 464.8L308.56 466.3L307.06 464.8Z" fill="#0c6cd0"/><path d="M312.03 466.6L313.53 468.1L312.03 469.6L310.53 468.1Z" fill="#0c6cd0"/><path d="M315.5 473.5L317 475L315.5 476.5L314 475Z" fill="#0c6cd0"/><path d="M318.97 418.7L320.47 420.2L318.97 421.7L317.47 420.2Z" fill="#0c6cd0"/><path d="M322.44 438.5L323.94 440L322.44 441.5L320.94 440Z" fill="#0c6cd0"/><path d="M325.91 451.4L327.41 452.9L325.91 454.4L324.41 452.9Z" fill="#0c6cd0"/><path d="M329.39 438.3L330.89 439.8L329.39 441.3L327.89 439.8Z" fill="#0c6cd0"/><path d="M332.86 473.1L334.36 474.6L332.86 476.1L331.36 474.6Z" fill="#0c6cd0"/><path d="M336.33 447L337.83 448.5L336.33 450L334.83 448.5Z" fill="#0c6cd0"/><path d="M339.8 461.2L341.3 462.7L339.8 464.2L338.3 462.7Z" fill="#0c6cd0"/><path d="M343.27 472.6L344.77 474.1L343.27 475.6L341.77 474.1Z" fill="#0c6cd0"/><path d="M346.74 443.7L348.24 445.2L346.74 446.7L345.24 445.2Z" fill="#0c6cd0"/><path d="M350.21 419.4L351.71 420.9L350.21 422.4L348.71 420.9Z" fill="#0c6cd0"/><path d="M353.68 416.9L355.18 418.4L353.68 419.9L352.18 418.4Z" fill="#0c6cd0"/><path d="M357.15 450.9L358.65 452.4L357.15 453.9L355.65 452.4Z" fill="#0c6cd0"/><path d="M360.62 413.1L362.12 414.6L360.62 416.1L359.12 414.6Z" fill="#0c6cd0"/><path d="M364.09 462.4L365.59 463.9L364.09 465.4L362.59 463.9Z" fill="#0c6cd0"/><path d="M367.56 394L369.06 395.5L367.56 397L366.06 395.5Z" fill="#0c6cd0"/><path d="M371.03 397.1L372.53 398.6L371.03 400.1L369.53 398.6Z" fill="#0c6cd0"/><path d="M374.5 420L376 421.5L374.5 423L373 421.5Z" fill="#0c6cd0"/><path d="M377.97 435.3L379.47 436.8L377.97 438.3L376.47 436.8Z" fill="#0c6cd0"/><path d="M381.44 399.7L382.94 401.2L381.44 402.7L379.94 401.2Z" fill="#0c6cd0"/><path d="M384.91 429.9L386.41 431.4L384.91 432.9L383.41 431.4Z" fill="#0c6cd0"/><path d="M388.38 405.1L389.88 406.6L388.38 408.1L386.88 406.6Z" fill="#0c6cd0"/><path d="M391.85 446.1L393.35 447.6L391.85 449.1L390.35 447.6Z" fill="#0c6cd0"/><path d="M395.32 452.3L396.82 453.8L395.32 455.3L393.82 453.8Z" fill="#0c6cd0"/><path d="M398.79 441.9L400.29 443.4L398.79 444.9L397.29 443.4Z" fill="#0c6cd0"/><path d="M402.26 447.1L403.76 448.6L402.26 450.1L400.76 448.6Z" fill="#0c6cd0"/><polyline points="253.04,479.2 256.51,472.9 259.98,456.3 263.45,452.4 266.92,436.8 270.39,474.4 273.86,433.9 277.33,457.6 280.8,454.3 284.27,487.4 287.74,423.8 291.21,421.9 294.68,460.7 298.15,472.5 301.62,451.9 305.09,478.2 308.56,464.3 312.03,448.8 315.5,460.3 318.97,403.4 322.44,512.7 325.91,486.8 329.39,464.9 332.86,481.1 336.33,479.2 339.8,510.7 343.27,476.3 346.74,469.6 350.21,504.1 353.68,504.1 357.15,481.7 360.62,479.2 364.09,497 367.56,475.4 371.03,506.9 374.5,508.5 377.97,499.3 381.44,500.2 384.91,472.9 388.38,484.4 391.85,466.4 395.32,506 398.79,454.3 402.26,495.4" fill="none" stroke="#ff2a2a" stroke-width="1.3" stroke-linejoin="round"/><path d="M253.04 477.4L254.84 480.64L251.24 480.64Z" fill="#f00000"/><path d="M256.51 471.1L258.31 474.34L254.71 474.34Z" fill="#f00000"/><path d="M259.98 454.5L261.78 457.74L258.18 457.74Z" fill="#f00000"/><path d="M263.45 450.6L265.25 453.84L261.65 453.84Z" fill="#f00000"/><path d="M266.92 435L268.72 438.24L265.12 438.24Z" fill="#f00000"/><path d="M270.39 472.6L272.19 475.84L268.59 475.84Z" fill="#f00000"/><path d="M273.86 432.1L275.66 435.34L272.06 435.34Z" fill="#f00000"/><path d="M277.33 455.8L279.13 459.04L275.53 459.04Z" fill="#f00000"/><path d="M280.8 452.5L282.6 455.74L279 455.74Z" fill="#f00000"/><path d="M284.27 485.6L286.07 488.84L282.47 488.84Z" fill="#f00000"/><path d="M287.74 422L289.54 425.24L285.94 425.24Z" fill="#f00000"/><path d="M291.21 420.1L293.01 423.34L289.41 423.34Z" fill="#f00000"/><path d="M294.68 458.9L296.48 462.14L292.88 462.14Z" fill="#f00000"/><path d="M298.15 470.7L299.95 473.94L296.35 473.94Z" fill="#f00000"/><path d="M301.62 450.1L303.42 453.34L299.82 453.34Z" fill="#f00000"/><path d="M305.09 476.4L306.89 479.64L303.29 479.64Z" fill="#f00000"/><path d="M308.56 462.5L310.36 465.74L306.76 465.74Z" fill="#f00000"/><path d="M312.03 447L313.83 450.24L310.23 450.24Z" fill="#f00000"/><path d="M315.5 458.5L317.3 461.74L313.7 461.74Z" fill="#f00000"/><path d="M318.97 401.6L320.77 404.84L317.17 404.84Z" fill="#f00000"/><path d="M322.44 510.9L324.24 514.14L320.64 514.14Z" fill="#f00000"/><path d="M325.91 485L327.71 488.24L324.11 488.24Z" fill="#f00000"/><path d="M329.39 463.1L331.19 466.34L327.59 466.34Z" fill="#f00000"/><path d="M332.86 479.3L334.66 482.54L331.06 482.54Z" fill="#f00000"/><path d="M336.33 477.4L338.13 480.64L334.53 480.64Z" fill="#f00000"/><path d="M339.8 508.9L341.6 512.14L338 512.14Z" fill="#f00000"/><path d="M343.27 474.5L345.07 477.74L341.47 477.74Z" fill="#f00000"/><path d="M346.74 467.8L348.54 471.04L344.94 471.04Z" fill="#f00000"/><path d="M350.21 502.3L352.01 505.54L348.41 505.54Z" fill="#f00000"/><path d="M353.68 502.3L355.48 505.54L351.88 505.54Z" fill="#f00000"/><path d="M357.15 479.9L358.95 483.14L355.35 483.14Z" fill="#f00000"/><path d="M360.62 477.4L362.42 480.64L358.82 480.64Z" fill="#f00000"/><path d="M364.09 495.2L365.89 498.44L362.29 498.44Z" fill="#f00000"/><path d="M367.56 473.6L369.36 476.84L365.76 476.84Z" fill="#f00000"/><path d="M371.03 505.1L372.83 508.34L369.23 508.34Z" fill="#f00000"/><path d="M374.5 506.7L376.3 509.94L372.7 509.94Z" fill="#f00000"/><path d="M377.97 497.5L379.77 500.74L376.17 500.74Z" fill="#f00000"/><path d="M381.44 498.4L383.24 501.64L379.64 501.64Z" fill="#f00000"/><path d="M384.91 471.1L386.71 474.34L383.11 474.34Z" fill="#f00000"/><path d="M388.38 482.6L390.18 485.84L386.58 485.84Z" fill="#f00000"/><path d="M391.85 464.6L393.65 467.84L390.05 467.84Z" fill="#f00000"/><path d="M395.32 504.2L397.12 507.44L393.52 507.44Z" fill="#f00000"/><path d="M398.79 452.5L400.59 455.74L396.99 455.74Z" fill="#f00000"/><path d="M402.26 493.6L404.06 496.84L400.46 496.84Z" fill="#f00000"/><polyline points="253.04,383.3 256.51,470.2 259.98,468.7 263.45,481.1 266.92,497 270.39,486.3 273.86,490.7 277.33,479.8 280.8,495.1 284.27,517.4 287.74,476 291.21,495.1 294.68,486.3 298.15,488.8 301.62,492 305.09,437 308.56,522.6 312.03,523.7 315.5,417 318.97,401.1 322.44,479.1 325.91,443 329.39,507.3 332.86,516.1 336.33,513 339.8,513 343.27,511.7 346.74,510.4 350.21,513.6 353.68,507.3 357.15,508.5 360.62,514.6 364.09,518 367.56,512.7 371.03,513 374.5,511.1 377.97,511.7 381.44,510.7 384.91,512.3 388.38,515.5 391.85,512.7 395.32,499.3 398.79,510.7 402.26,511.7" fill="none" stroke="#22b45a" stroke-width="1.3" stroke-linejoin="round"/><circle cx="253.04" cy="383.3" r="1.7" fill="#0ea040"/><circle cx="256.51" cy="470.2" r="1.7" fill="#0ea040"/><circle cx="259.98" cy="468.7" r="1.7" fill="#0ea040"/><circle cx="263.45" cy="481.1" r="1.7" fill="#0ea040"/><circle cx="266.92" cy="497" r="1.7" fill="#0ea040"/><circle cx="270.39" cy="486.3" r="1.7" fill="#0ea040"/><circle cx="273.86" cy="490.7" r="1.7" fill="#0ea040"/><circle cx="277.33" cy="479.8" r="1.7" fill="#0ea040"/><circle cx="280.8" cy="495.1" r="1.7" fill="#0ea040"/><circle cx="284.27" cy="517.4" r="1.7" fill="#0ea040"/><circle cx="287.74" cy="476" r="1.7" fill="#0ea040"/><circle cx="291.21" cy="495.1" r="1.7" fill="#0ea040"/><circle cx="294.68" cy="486.3" r="1.7" fill="#0ea040"/><circle cx="298.15" cy="488.8" r="1.7" fill="#0ea040"/><circle cx="301.62" cy="492" r="1.7" fill="#0ea040"/><circle cx="305.09" cy="437" r="1.7" fill="#0ea040"/><circle cx="308.56" cy="522.6" r="1.7" fill="#0ea040"/><circle cx="312.03" cy="523.7" r="1.7" fill="#0ea040"/><circle cx="315.5" cy="417" r="1.7" fill="#0ea040"/><circle cx="318.97" cy="401.1" r="1.7" fill="#0ea040"/><circle cx="322.44" cy="479.1" r="1.7" fill="#0ea040"/><circle cx="325.91" cy="443" r="1.7" fill="#0ea040"/><circle cx="329.39" cy="507.3" r="1.7" fill="#0ea040"/><circle cx="332.86" cy="516.1" r="1.7" fill="#0ea040"/><circle cx="336.33" cy="513" r="1.7" fill="#0ea040"/><circle cx="339.8" cy="513" r="1.7" fill="#0ea040"/><circle cx="343.27" cy="511.7" r="1.7" fill="#0ea040"/><circle cx="346.74" cy="510.4" r="1.7" fill="#0ea040"/><circle cx="350.21" cy="513.6" r="1.7" fill="#0ea040"/><circle cx="353.68" cy="507.3" r="1.7" fill="#0ea040"/><circle cx="357.15" cy="508.5" r="1.7" fill="#0ea040"/><circle cx="360.62" cy="514.6" r="1.7" fill="#0ea040"/><circle cx="364.09" cy="518" r="1.7" fill="#0ea040"/><circle cx="367.56" cy="512.7" r="1.7" fill="#0ea040"/><circle cx="371.03" cy="513" r="1.7" fill="#0ea040"/><circle cx="374.5" cy="511.1" r="1.7" fill="#0ea040"/><circle cx="377.97" cy="511.7" r="1.7" fill="#0ea040"/><circle cx="381.44" cy="510.7" r="1.7" fill="#0ea040"/><circle cx="384.91" cy="512.3" r="1.7" fill="#0ea040"/><circle cx="388.38" cy="515.5" r="1.7" fill="#0ea040"/><circle cx="391.85" cy="512.7" r="1.7" fill="#0ea040"/><circle cx="395.32" cy="499.3" r="1.7" fill="#0ea040"/><circle cx="398.79" cy="510.7" r="1.7" fill="#0ea040"/><circle cx="402.26" cy="511.7" r="1.7" fill="#0ea040"/><line x1="256.6" y1="381.9" x2="273.7" y2="381.9" stroke="#3b8fe0" stroke-width="1.3"/><path d="M265.5 380.4L267 381.9L265.5 383.4L264 381.9Z" fill="#0c6cd0"/><text class="lg" x="275.2" y="383.85" font-size="7.0" textLength="24.9" lengthAdjust="spacingAndGlyphs">Khopasi</text><line x1="304.8" y1="381.9" x2="320.9" y2="381.9" stroke="#ff2a2a" stroke-width="1.3"/><path d="M312.6 380.1L314.4 383.34L310.8 383.34Z" fill="#f00000"/><text class="lg" x="322.5" y="383.85" font-size="7.0" textLength="27.4" lengthAdjust="spacingAndGlyphs">Godavari</text><line x1="354.6" y1="381.9" x2="371.1" y2="381.9" stroke="#22b45a" stroke-width="1.3"/><circle cx="362.9" cy="381.9" r="1.7" fill="#0ea040"/><text class="lg" x="372.5" y="383.85" font-size="7.0" textLength="28.6" lengthAdjust="spacingAndGlyphs">Dhulikhel</text><text class="st" x="255.3" y="391.2" font-size="5.9">r</text><text class="sp" x="257.4" y="388.8" font-size="4.0">2</text><text class="st" x="259.6" y="391.2" font-size="5.9" textLength="38.3" lengthAdjust="spacingAndGlyphs">=0.37, p=0.00</text><text class="st" x="305.5" y="391.2" font-size="5.9">r</text><text class="sp" x="307.6" y="388.8" font-size="4.0">2</text><text class="st" x="309.8" y="391.2" font-size="5.9" textLength="39.5" lengthAdjust="spacingAndGlyphs">=0.26, p=0.00</text><text class="st" x="356.1" y="391.2" font-size="5.9">r</text><text class="sp" x="358.2" y="388.8" font-size="4.0">2</text><text class="st" x="360.4" y="391.2" font-size="5.9" textLength="37.6" lengthAdjust="spacingAndGlyphs">=0.24 p=0.00</text></g>
</svg></body></html>
